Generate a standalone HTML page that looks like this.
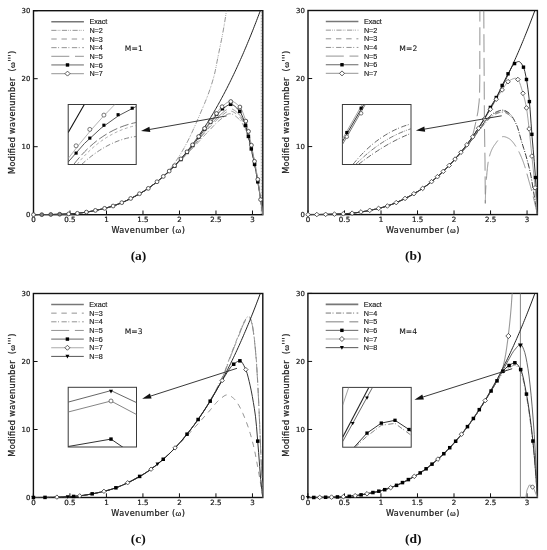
<!DOCTYPE html>
<html><head><meta charset="utf-8"><title>Modified wavenumber</title>
<style>html,body{margin:0;padding:0;background:#fff;}svg{display:block;filter:blur(0.3px);}</style>
</head><body>
<svg width="547" height="550" viewBox="0 0 547 550">
<rect width="547" height="550" fill="#fff"/>
<defs>
<clipPath id="clipa"><rect x="33.5" y="10.7" width="229.3" height="204"/></clipPath>
<clipPath id="clipb"><rect x="308" y="10.5" width="229.4" height="204.1"/></clipPath>
<clipPath id="clipc"><rect x="33.4" y="293.5" width="229.4" height="204"/></clipPath>
<clipPath id="clipd"><rect x="307.9" y="293.4" width="229.5" height="204.1"/></clipPath>
<clipPath id="insA"><rect x="68.2" y="104.5" width="68" height="60"/></clipPath>
<clipPath id="insB"><rect x="342.4" y="104.5" width="68.6" height="60"/></clipPath>
<clipPath id="insC"><rect x="68.2" y="387.3" width="68.3" height="59.7"/></clipPath>
<clipPath id="insD"><rect x="342.7" y="387.4" width="68.5" height="59.8"/></clipPath>
</defs>
<line x1="33.5" y1="214.7" x2="33.5" y2="210.5" stroke="#111" stroke-width="1"/>
<text x="33.5" y="222.4" font-family="DejaVu Sans, Liberation Sans, sans-serif" stroke="#1a1a1a" stroke-width="0.22" font-size="7.1" text-anchor="middle" fill="#1a1a1a">0</text>
<line x1="69.99" y1="214.7" x2="69.99" y2="210.5" stroke="#111" stroke-width="1"/>
<text x="69.99" y="222.4" font-family="DejaVu Sans, Liberation Sans, sans-serif" stroke="#1a1a1a" stroke-width="0.22" font-size="7.1" text-anchor="middle" fill="#1a1a1a">0.5</text>
<line x1="106.49" y1="214.7" x2="106.49" y2="210.5" stroke="#111" stroke-width="1"/>
<text x="106.49" y="222.4" font-family="DejaVu Sans, Liberation Sans, sans-serif" stroke="#1a1a1a" stroke-width="0.22" font-size="7.1" text-anchor="middle" fill="#1a1a1a">1</text>
<line x1="142.98" y1="214.7" x2="142.98" y2="210.5" stroke="#111" stroke-width="1"/>
<text x="142.98" y="222.4" font-family="DejaVu Sans, Liberation Sans, sans-serif" stroke="#1a1a1a" stroke-width="0.22" font-size="7.1" text-anchor="middle" fill="#1a1a1a">1.5</text>
<line x1="179.48" y1="214.7" x2="179.48" y2="210.5" stroke="#111" stroke-width="1"/>
<text x="179.48" y="222.4" font-family="DejaVu Sans, Liberation Sans, sans-serif" stroke="#1a1a1a" stroke-width="0.22" font-size="7.1" text-anchor="middle" fill="#1a1a1a">2</text>
<line x1="215.97" y1="214.7" x2="215.97" y2="210.5" stroke="#111" stroke-width="1"/>
<text x="215.97" y="222.4" font-family="DejaVu Sans, Liberation Sans, sans-serif" stroke="#1a1a1a" stroke-width="0.22" font-size="7.1" text-anchor="middle" fill="#1a1a1a">2.5</text>
<line x1="252.47" y1="214.7" x2="252.47" y2="210.5" stroke="#111" stroke-width="1"/>
<text x="252.47" y="222.4" font-family="DejaVu Sans, Liberation Sans, sans-serif" stroke="#1a1a1a" stroke-width="0.22" font-size="7.1" text-anchor="middle" fill="#1a1a1a">3</text>
<line x1="33.5" y1="214.7" x2="37.7" y2="214.7" stroke="#111" stroke-width="1"/>
<text x="30.4" y="217.2" font-family="DejaVu Sans, Liberation Sans, sans-serif" stroke="#1a1a1a" stroke-width="0.22" font-size="6.9" text-anchor="end" fill="#1a1a1a">0</text>
<line x1="33.5" y1="146.7" x2="37.7" y2="146.7" stroke="#111" stroke-width="1"/>
<text x="30.4" y="149.2" font-family="DejaVu Sans, Liberation Sans, sans-serif" stroke="#1a1a1a" stroke-width="0.22" font-size="6.9" text-anchor="end" fill="#1a1a1a">10</text>
<line x1="33.5" y1="78.7" x2="37.7" y2="78.7" stroke="#111" stroke-width="1"/>
<text x="30.4" y="81.2" font-family="DejaVu Sans, Liberation Sans, sans-serif" stroke="#1a1a1a" stroke-width="0.22" font-size="6.9" text-anchor="end" fill="#1a1a1a">20</text>
<line x1="33.5" y1="10.7" x2="37.7" y2="10.7" stroke="#111" stroke-width="1"/>
<text x="30.4" y="13.2" font-family="DejaVu Sans, Liberation Sans, sans-serif" stroke="#1a1a1a" stroke-width="0.22" font-size="6.9" text-anchor="end" fill="#1a1a1a">30</text>
<rect x="33.5" y="10.7" width="229.3" height="204" fill="none" stroke="#111" stroke-width="1.4"/>
<text x="148.15" y="233.1" font-family="DejaVu Sans, Liberation Sans, sans-serif" stroke="#1a1a1a" stroke-width="0.22" font-size="8.1" text-anchor="middle" textLength="73.5" lengthAdjust="spacing" fill="#1a1a1a">Wavenumber (<tspan font-family="Liberation Serif, serif" font-size="8.8">ω</tspan>)</text>
<text transform="translate(14.9 112.4) rotate(-90)" font-family="DejaVu Sans, Liberation Sans, sans-serif" stroke="#1a1a1a" stroke-width="0.22" font-size="8.1" text-anchor="middle" textLength="123" lengthAdjust="spacing" fill="#1a1a1a" xml:space="preserve">Modified wavenumber  (<tspan font-family="Liberation Serif, serif" font-size="8.8">ω</tspan>''')</text>
<text x="124.8" y="50.8" font-family="DejaVu Sans, sans-serif" font-size="7.6" textLength="18" lengthAdjust="spacing" fill="#1a1a1a" stroke="#1a1a1a" stroke-width="0.12">M=1</text>
<path d="M51.3 21.7 L83.9 21.7" fill="none" stroke="#777" stroke-width="1.6"/>
<text x="89.4" y="24.3" font-family="Liberation Sans, Arial, sans-serif" stroke="#222" stroke-width="0.18" font-size="7.2" fill="#222">Exact</text>
<path d="M51.3 30.35 L83.9 30.35" fill="none" stroke="#888" stroke-width="0.9" stroke-dasharray="5.2 1.2 0.8 1.0 0.8 1.6"/>
<text x="89.4" y="32.95" font-family="Liberation Sans, Arial, sans-serif" stroke="#222" stroke-width="0.18" font-size="7.2" fill="#222">N=2</text>
<path d="M51.3 39 L83.9 39" fill="none" stroke="#888" stroke-width="0.9" stroke-dasharray="5.4 4.8"/>
<text x="89.4" y="41.6" font-family="Liberation Sans, Arial, sans-serif" stroke="#222" stroke-width="0.18" font-size="7.2" fill="#222">N=3</text>
<path d="M51.3 47.65 L83.9 47.65" fill="none" stroke="#888" stroke-width="0.9" stroke-dasharray="5.3 1.5 1 2.5"/>
<text x="89.4" y="50.25" font-family="Liberation Sans, Arial, sans-serif" stroke="#222" stroke-width="0.18" font-size="7.2" fill="#222">N=4</text>
<path d="M51.3 56.3 L83.9 56.3" fill="none" stroke="#888" stroke-width="0.9" stroke-dasharray="18 5.7"/>
<text x="89.4" y="58.9" font-family="Liberation Sans, Arial, sans-serif" stroke="#222" stroke-width="0.18" font-size="7.2" fill="#222">N=5</text>
<path d="M51.3 64.95 L83.9 64.95" fill="none" stroke="#666" stroke-width="1.0"/>
<rect x="65.8" y="63.25" width="3.4" height="3.4" fill="#000"/>
<text x="89.4" y="67.55" font-family="Liberation Sans, Arial, sans-serif" stroke="#222" stroke-width="0.18" font-size="7.2" fill="#222">N=6</text>
<path d="M51.3 73.6 L83.9 73.6" fill="none" stroke="#aaa" stroke-width="1.2"/>
<path d="M67.5 71.1L70 73.6L67.5 76.1L65 73.6Z" fill="#fff" stroke="#333" stroke-width="0.8"/>
<text x="89.4" y="76.2" font-family="Liberation Sans, Arial, sans-serif" stroke="#222" stroke-width="0.18" font-size="7.2" fill="#222">N=7</text>
<path d="M33.5 214.7 L34.4 214.7 L35.3 214.7 L36.2 214.69 L37.1 214.69 L38 214.68 L38.9 214.68 L39.8 214.67 L40.7 214.66 L41.6 214.65 L42.5 214.64 L43.4 214.63 L44.3 214.61 L45.2 214.6 L46.1 214.58 L47 214.57 L47.9 214.55 L48.8 214.53 L49.7 214.51 L50.6 214.49 L51.5 214.47 L52.4 214.44 L53.3 214.42 L54.2 214.4 L55.1 214.37 L56 214.35 L56.9 214.32 L57.8 214.29 L58.7 214.26 L59.6 214.23 L60.5 214.2 L61.4 214.17 L62.3 214.14 L63.2 214.11 L64.1 214.08 L65 214.05 L65.89 214.01 L66.79 213.98 L67.69 213.94 L68.59 213.91 L69.49 213.87 L70.39 213.83 L71.29 213.79 L72.19 213.74 L73.09 213.68 L73.99 213.62 L74.89 213.54 L75.79 213.46 L76.69 213.38 L77.59 213.29 L78.49 213.19 L79.39 213.09 L80.29 212.98 L81.19 212.86 L82.09 212.74 L82.99 212.61 L83.89 212.48 L84.79 212.35 L85.69 212.2 L86.59 212.06 L87.49 211.91 L88.39 211.75 L89.29 211.59 L90.19 211.43 L91.09 211.26 L91.99 211.08 L92.89 210.91 L93.79 210.73 L94.69 210.55 L95.59 210.36 L96.49 210.17 L97.39 209.98 L98.29 209.78 L99.19 209.58 L100.09 209.38 L100.99 209.18 L101.89 208.98 L102.79 208.77 L103.69 208.56 L104.59 208.35 L105.49 208.14 L106.39 207.92 L107.29 207.7 L108.19 207.47 L109.09 207.23 L109.99 206.97 L110.89 206.71 L111.79 206.43 L112.69 206.14 L113.59 205.84 L114.49 205.53 L115.39 205.21 L116.29 204.88 L117.19 204.55 L118.09 204.2 L118.99 203.84 L119.89 203.47 L120.79 203.1 L121.69 202.71 L122.59 202.32 L123.49 201.92 L124.39 201.51 L125.29 201.09 L126.19 200.67 L127.09 200.24 L127.99 199.8 L128.88 199.36 L129.78 198.91 L130.68 198.46 L131.58 197.99 L132.48 197.53 L133.38 197.05 L134.28 196.58 L135.18 196.09 L136.08 195.61 L136.98 195.12 L137.88 194.62 L138.78 194.12 L139.68 193.62 L140.58 193.11 L141.48 192.6 L142.38 192.09 L143.28 191.58 L144.18 191.04 L145.08 190.48 L145.98 189.9 L146.88 189.3 L147.78 188.68 L148.68 188.04 L149.58 187.38 L150.48 186.71 L151.38 186.02 L152.28 185.32 L153.18 184.61 L154.08 183.9 L154.98 183.17 L155.88 182.44 L156.78 181.7 L157.68 180.96 L158.58 180.21 L159.48 179.46 L160.38 178.7 L161.28 177.92 L162.18 177.13 L163.08 176.32 L163.98 175.49 L164.88 174.64 L165.78 173.75 L166.68 172.83 L167.58 171.88 L168.48 170.9 L169.38 169.87 L170.28 168.79 L171.18 167.68 L172.08 166.53 L172.98 165.33 L173.88 164.1 L174.78 162.84 L175.68 161.54 L176.58 160.21 L177.48 158.84 L178.38 157.45 L179.28 156.03 L180.18 154.58 L181.08 153.1 L181.98 151.61 L182.88 150.08 L183.78 148.53 L184.68 146.93 L185.58 145.28 L186.48 143.59 L187.38 141.86 L188.28 140.09 L189.18 138.27 L190.08 136.43 L190.98 134.55 L191.87 132.63 L192.77 130.68 L193.67 128.71 L194.57 126.7 L195.47 124.67 L196.37 122.62 L197.27 120.54 L198.17 118.45 L199.07 116.33 L199.97 114.21 L200.87 112.11 L201.77 110.03 L202.67 107.94 L203.57 105.83 L204.47 103.7 L205.37 101.53 L206.27 99.3 L207.17 97.01 L208.07 94.64 L208.97 92.17 L209.87 89.6 L210.77 86.91 L211.67 84.1 L212.57 81.14 L213.47 78.02 L214.37 74.73 L215.27 70.81 L216.17 66.24 L217.07 61.49 L217.97 56.91 L218.87 52.49 L219.77 48.14 L220.67 43.79 L221.57 39.35 L222.47 34.75 L223.37 29.91 L224.27 24.74 L225.17 19.17 L226.07 13.12 L226.97 6.36 L227.87 -1.6 L228.77 -10.53 L229.67 -20.13 L230.57 -30.1" fill="none" stroke="#888" stroke-width="0.9" stroke-dasharray="5.2 1.2 0.8 1.0 0.8 1.6" clip-path="url(#clipa)"/>
<path d="M33.5 214.7 L34.55 214.7 L35.59 214.7 L36.64 214.69 L37.69 214.69 L38.74 214.68 L39.78 214.67 L40.83 214.66 L41.88 214.65 L42.92 214.63 L43.97 214.62 L45.02 214.6 L46.06 214.58 L47.11 214.56 L48.16 214.54 L49.21 214.52 L50.25 214.5 L51.3 214.47 L52.35 214.45 L53.39 214.42 L54.44 214.39 L55.49 214.36 L56.53 214.33 L57.58 214.3 L58.63 214.27 L59.68 214.23 L60.72 214.2 L61.77 214.16 L62.82 214.12 L63.86 214.09 L64.91 214.05 L65.96 214.01 L67.01 213.97 L68.05 213.93 L69.1 213.89 L70.15 213.84 L71.19 213.79 L72.24 213.74 L73.29 213.67 L74.33 213.59 L75.38 213.5 L76.43 213.41 L77.48 213.3 L78.52 213.19 L79.57 213.07 L80.62 212.94 L81.66 212.8 L82.71 212.65 L83.76 212.5 L84.8 212.34 L85.85 212.18 L86.9 212.01 L87.95 211.83 L88.99 211.64 L90.04 211.45 L91.09 211.26 L92.13 211.06 L93.18 210.85 L94.23 210.64 L95.27 210.43 L96.32 210.21 L97.37 209.98 L98.42 209.75 L99.46 209.52 L100.51 209.29 L101.56 209.05 L102.6 208.81 L103.65 208.57 L104.7 208.32 L105.75 208.08 L106.79 207.83 L107.84 207.56 L108.89 207.29 L109.93 206.99 L110.98 206.68 L112.03 206.36 L113.07 206.02 L114.12 205.66 L115.17 205.29 L116.22 204.91 L117.26 204.52 L118.31 204.11 L119.36 203.69 L120.4 203.26 L121.45 202.81 L122.5 202.36 L123.54 201.89 L124.59 201.42 L125.64 200.93 L126.69 200.44 L127.73 199.93 L128.78 199.42 L129.83 198.89 L130.87 198.36 L131.92 197.82 L132.97 197.28 L134.02 196.72 L135.06 196.16 L136.11 195.6 L137.16 195.02 L138.2 194.45 L139.25 193.86 L140.3 193.28 L141.34 192.68 L142.39 192.09 L143.44 191.49 L144.49 190.86 L145.53 190.21 L146.58 189.53 L147.63 188.82 L148.67 188.09 L149.72 187.35 L150.77 186.58 L151.81 185.79 L152.86 184.99 L153.91 184.17 L154.96 183.33 L156 182.49 L157.05 181.63 L158.1 180.77 L159.14 179.9 L160.19 179.02 L161.24 178.13 L162.28 177.25 L163.33 176.36 L164.38 175.47 L165.43 174.58 L166.47 173.67 L167.52 172.75 L168.57 171.81 L169.61 170.86 L170.66 169.9 L171.71 168.92 L172.76 167.93 L173.8 166.93 L174.85 165.92 L175.9 164.89 L176.94 163.86 L177.99 162.82 L179.04 161.76 L180.08 160.7 L181.13 159.62 L182.18 158.53 L183.23 157.41 L184.27 156.29 L185.32 155.15 L186.37 154 L187.41 152.84 L188.46 151.67 L189.51 150.49 L190.55 149.32 L191.6 148.13 L192.65 146.95 L193.7 145.77 L194.74 144.58 L195.79 143.37 L196.84 142.15 L197.88 140.91 L198.93 139.66 L199.98 138.4 L201.03 137.15 L202.07 135.89 L203.12 134.65 L204.17 133.42 L205.21 132.2 L206.26 131 L207.31 129.83 L208.35 128.68 L209.4 127.56 L210.45 126.43 L211.5 125.3 L212.54 124.18 L213.59 123.07 L214.64 121.99 L215.68 120.94 L216.73 119.94 L217.78 118.99 L218.82 118.09 L219.87 117.26 L220.92 116.41 L221.97 115.52 L223.01 114.63 L224.06 113.77 L225.11 112.97 L226.15 112.26 L227.2 111.68 L228.25 111.26 L229.29 111.03 L230.34 111.02 L231.39 111.2 L232.44 111.54 L233.48 112.04 L234.53 112.66 L235.58 113.4 L236.62 114.24 L237.67 115.16 L238.72 116.14 L239.77 117.17 L240.81 118.35 L241.86 119.95 L242.91 121.94 L243.95 124.24 L245 126.78 L246.05 129.5 L247.09 132.41 L248.14 135.91 L249.19 139.91 L250.24 144.19 L251.28 148.53 L252.33 152.98 L253.38 157.63 L254.42 162.55 L255.47 167.78 L256.52 173.38 L257.56 179.37 L258.61 185.73 L259.66 192.45 L260.71 199.53 L261.75 206.95 L262.8 214.7" fill="none" stroke="#888" stroke-width="0.9" stroke-dasharray="5.4 4.8" clip-path="url(#clipa)"/>
<path d="M33.5 214.7 L34.55 214.7 L35.59 214.7 L36.64 214.69 L37.69 214.69 L38.74 214.68 L39.78 214.67 L40.83 214.66 L41.88 214.65 L42.92 214.63 L43.97 214.62 L45.02 214.6 L46.06 214.58 L47.11 214.56 L48.16 214.54 L49.21 214.52 L50.25 214.5 L51.3 214.47 L52.35 214.45 L53.39 214.42 L54.44 214.39 L55.49 214.36 L56.53 214.33 L57.58 214.3 L58.63 214.27 L59.68 214.23 L60.72 214.2 L61.77 214.16 L62.82 214.12 L63.86 214.09 L64.91 214.05 L65.96 214.01 L67.01 213.97 L68.05 213.93 L69.1 213.89 L70.15 213.84 L71.19 213.79 L72.24 213.74 L73.29 213.67 L74.33 213.59 L75.38 213.5 L76.43 213.41 L77.48 213.3 L78.52 213.19 L79.57 213.07 L80.62 212.94 L81.66 212.8 L82.71 212.65 L83.76 212.5 L84.8 212.34 L85.85 212.18 L86.9 212.01 L87.95 211.83 L88.99 211.64 L90.04 211.45 L91.09 211.26 L92.13 211.06 L93.18 210.85 L94.23 210.64 L95.27 210.43 L96.32 210.21 L97.37 209.98 L98.42 209.75 L99.46 209.52 L100.51 209.29 L101.56 209.05 L102.6 208.81 L103.65 208.57 L104.7 208.32 L105.75 208.08 L106.79 207.83 L107.84 207.56 L108.89 207.29 L109.93 206.99 L110.98 206.68 L112.03 206.36 L113.07 206.02 L114.12 205.66 L115.17 205.29 L116.22 204.91 L117.26 204.52 L118.31 204.11 L119.36 203.69 L120.4 203.26 L121.45 202.81 L122.5 202.36 L123.54 201.89 L124.59 201.42 L125.64 200.93 L126.69 200.44 L127.73 199.93 L128.78 199.42 L129.83 198.89 L130.87 198.36 L131.92 197.82 L132.97 197.28 L134.02 196.72 L135.06 196.16 L136.11 195.6 L137.16 195.02 L138.2 194.45 L139.25 193.86 L140.3 193.28 L141.34 192.68 L142.39 192.09 L143.44 191.49 L144.49 190.86 L145.53 190.2 L146.58 189.52 L147.63 188.81 L148.67 188.08 L149.72 187.33 L150.77 186.56 L151.81 185.77 L152.86 184.96 L153.91 184.14 L154.96 183.3 L156 182.46 L157.05 181.6 L158.1 180.74 L159.14 179.86 L160.19 178.99 L161.24 178.11 L162.28 177.22 L163.33 176.34 L164.38 175.46 L165.43 174.58 L166.47 173.69 L167.52 172.78 L168.57 171.86 L169.61 170.92 L170.66 169.98 L171.71 169.02 L172.76 168.05 L173.8 167.08 L174.85 166.09 L175.9 165.1 L176.94 164.1 L177.99 163.09 L179.04 162.08 L180.08 161.07 L181.13 160.04 L182.18 159 L183.23 157.95 L184.27 156.89 L185.32 155.82 L186.37 154.75 L187.41 153.67 L188.46 152.58 L189.51 151.49 L190.55 150.39 L191.6 149.29 L192.65 148.19 L193.7 147.1 L194.74 146 L195.79 144.89 L196.84 143.77 L197.88 142.64 L198.93 141.5 L199.98 140.36 L201.03 139.23 L202.07 138.09 L203.12 136.95 L204.17 135.82 L205.21 134.7 L206.26 133.58 L207.31 132.48 L208.35 131.39 L209.4 130.3 L210.45 129.2 L211.5 128.08 L212.54 126.96 L213.59 125.85 L214.64 124.76 L215.68 123.7 L216.73 122.68 L217.78 121.72 L218.82 120.82 L219.87 119.98 L220.92 119.13 L221.97 118.24 L223.01 117.35 L224.06 116.49 L225.11 115.69 L226.15 114.98 L227.2 114.4 L228.25 113.98 L229.29 113.75 L230.34 113.74 L231.39 113.92 L232.44 114.27 L233.48 114.77 L234.53 115.4 L235.58 116.14 L236.62 116.98 L237.67 117.89 L238.72 118.87 L239.77 119.89 L240.81 121.04 L241.86 122.56 L242.91 124.43 L243.95 126.59 L245 129 L246.05 131.6 L247.09 134.42 L248.14 137.92 L249.19 141.95 L250.24 146.24 L251.28 150.55 L252.33 154.91 L253.38 159.43 L254.42 164.19 L255.47 169.25 L256.52 174.68 L257.56 180.48 L258.61 186.64 L259.66 193.16 L260.71 200.01 L261.75 207.2 L262.8 214.7" fill="none" stroke="#888" stroke-width="0.9" stroke-dasharray="5.3 1.5 1 2.5" clip-path="url(#clipa)"/>
<path d="M33.5 214.7 L34.55 214.7 L35.59 214.7 L36.64 214.69 L37.69 214.69 L38.74 214.68 L39.78 214.67 L40.83 214.66 L41.88 214.65 L42.92 214.63 L43.97 214.62 L45.02 214.6 L46.06 214.58 L47.11 214.56 L48.16 214.54 L49.21 214.52 L50.25 214.5 L51.3 214.47 L52.35 214.45 L53.39 214.42 L54.44 214.39 L55.49 214.36 L56.53 214.33 L57.58 214.3 L58.63 214.27 L59.68 214.23 L60.72 214.2 L61.77 214.16 L62.82 214.12 L63.86 214.09 L64.91 214.05 L65.96 214.01 L67.01 213.97 L68.05 213.93 L69.1 213.89 L70.15 213.84 L71.19 213.79 L72.24 213.74 L73.29 213.67 L74.33 213.59 L75.38 213.5 L76.43 213.41 L77.48 213.3 L78.52 213.19 L79.57 213.07 L80.62 212.94 L81.66 212.8 L82.71 212.65 L83.76 212.5 L84.8 212.34 L85.85 212.18 L86.9 212.01 L87.95 211.83 L88.99 211.64 L90.04 211.45 L91.09 211.26 L92.13 211.06 L93.18 210.85 L94.23 210.64 L95.27 210.43 L96.32 210.21 L97.37 209.98 L98.42 209.75 L99.46 209.52 L100.51 209.29 L101.56 209.05 L102.6 208.81 L103.65 208.57 L104.7 208.32 L105.75 208.08 L106.79 207.83 L107.84 207.56 L108.89 207.29 L109.93 206.99 L110.98 206.68 L112.03 206.36 L113.07 206.02 L114.12 205.66 L115.17 205.29 L116.22 204.91 L117.26 204.52 L118.31 204.11 L119.36 203.69 L120.4 203.26 L121.45 202.81 L122.5 202.36 L123.54 201.89 L124.59 201.42 L125.64 200.93 L126.69 200.44 L127.73 199.93 L128.78 199.42 L129.83 198.89 L130.87 198.36 L131.92 197.82 L132.97 197.28 L134.02 196.72 L135.06 196.16 L136.11 195.6 L137.16 195.02 L138.2 194.45 L139.25 193.86 L140.3 193.28 L141.34 192.68 L142.39 192.09 L143.44 191.49 L144.49 190.86 L145.53 190.21 L146.58 189.53 L147.63 188.83 L148.67 188.1 L149.72 187.36 L150.77 186.59 L151.81 185.81 L152.86 185.01 L153.91 184.19 L154.96 183.36 L156 182.52 L157.05 181.67 L158.1 180.8 L159.14 179.93 L160.19 179.05 L161.24 178.16 L162.28 177.27 L163.33 176.37 L164.38 175.47 L165.43 174.57 L166.47 173.65 L167.52 172.71 L168.57 171.76 L169.61 170.78 L170.66 169.79 L171.71 168.79 L172.76 167.77 L173.8 166.74 L174.85 165.7 L175.9 164.64 L176.94 163.58 L177.99 162.51 L179.04 161.43 L180.08 160.35 L181.13 159.25 L182.18 158.13 L183.23 156.99 L184.27 155.85 L185.32 154.69 L186.37 153.51 L187.41 152.33 L188.46 151.14 L189.51 149.94 L190.55 148.74 L191.6 147.53 L192.65 146.32 L193.7 145.1 L194.74 143.88 L195.79 142.63 L196.84 141.37 L197.88 140.08 L198.93 138.79 L199.98 137.49 L201.03 136.18 L202.07 134.88 L203.12 133.58 L204.17 132.3 L205.21 131.03 L206.26 129.77 L207.31 128.54 L208.35 127.34 L209.4 126.16 L210.45 124.96 L211.5 123.76 L212.54 122.57 L213.59 121.39 L214.64 120.24 L215.68 119.12 L216.73 118.05 L217.78 117.04 L218.82 116.09 L219.87 115.21 L220.92 114.31 L221.97 113.38 L223.01 112.44 L224.06 111.53 L225.11 110.69 L226.15 109.94 L227.2 109.33 L228.25 108.89 L229.29 108.65 L230.34 108.64 L231.39 108.83 L232.44 109.2 L233.48 109.72 L234.53 110.39 L235.58 111.17 L236.62 112.05 L237.67 113.01 L238.72 114.04 L239.77 115.12 L240.81 116.33 L241.86 117.95 L242.91 119.93 L243.95 122.22 L245 124.75 L246.05 127.46 L247.09 130.37 L248.14 133.86 L249.19 137.84 L250.24 142.12 L251.28 146.5 L252.33 151.05 L253.38 155.84 L254.42 160.91 L255.47 166.32 L256.52 172.09 L257.56 178.25 L258.61 184.81 L259.66 191.74 L260.71 199.04 L261.75 206.7 L262.8 214.7" fill="none" stroke="#888" stroke-width="0.9" stroke-dasharray="18 5.7" clip-path="url(#clipa)"/>
<path d="M261.3 11.5 L261.3 214" fill="none" stroke="#999" stroke-width="0.9" stroke-dasharray="2 1"/>
<path d="M33.5 214.7 L34.55 214.7 L35.59 214.7 L36.64 214.69 L37.69 214.69 L38.74 214.68 L39.78 214.67 L40.83 214.66 L41.88 214.65 L42.92 214.63 L43.97 214.62 L45.02 214.6 L46.06 214.58 L47.11 214.56 L48.16 214.54 L49.21 214.52 L50.25 214.5 L51.3 214.47 L52.35 214.45 L53.39 214.42 L54.44 214.39 L55.49 214.36 L56.53 214.33 L57.58 214.3 L58.63 214.27 L59.68 214.23 L60.72 214.2 L61.77 214.16 L62.82 214.12 L63.86 214.09 L64.91 214.05 L65.96 214.01 L67.01 213.97 L68.05 213.93 L69.1 213.89 L70.15 213.84 L71.19 213.79 L72.24 213.74 L73.29 213.67 L74.33 213.59 L75.38 213.5 L76.43 213.41 L77.48 213.3 L78.52 213.19 L79.57 213.07 L80.62 212.94 L81.66 212.8 L82.71 212.65 L83.76 212.5 L84.8 212.34 L85.85 212.18 L86.9 212.01 L87.95 211.83 L88.99 211.64 L90.04 211.45 L91.09 211.26 L92.13 211.06 L93.18 210.85 L94.23 210.64 L95.27 210.43 L96.32 210.21 L97.37 209.98 L98.42 209.75 L99.46 209.52 L100.51 209.29 L101.56 209.05 L102.6 208.81 L103.65 208.57 L104.7 208.32 L105.75 208.08 L106.79 207.83 L107.84 207.56 L108.89 207.29 L109.93 206.99 L110.98 206.68 L112.03 206.36 L113.07 206.02 L114.12 205.66 L115.17 205.29 L116.22 204.91 L117.26 204.52 L118.31 204.11 L119.36 203.69 L120.4 203.26 L121.45 202.81 L122.5 202.36 L123.54 201.89 L124.59 201.42 L125.64 200.93 L126.69 200.44 L127.73 199.93 L128.78 199.42 L129.83 198.89 L130.87 198.36 L131.92 197.82 L132.97 197.28 L134.02 196.72 L135.06 196.16 L136.11 195.6 L137.16 195.02 L138.2 194.45 L139.25 193.86 L140.3 193.28 L141.34 192.68 L142.39 192.09 L143.44 191.49 L144.49 190.86 L145.53 190.21 L146.58 189.54 L147.63 188.84 L148.67 188.12 L149.72 187.37 L150.77 186.61 L151.81 185.83 L152.86 185.03 L153.91 184.22 L154.96 183.39 L156 182.55 L157.05 181.7 L158.1 180.83 L159.14 179.96 L160.19 179.07 L161.24 178.18 L162.28 177.28 L163.33 176.38 L164.38 175.48 L165.43 174.56 L166.47 173.63 L167.52 172.68 L168.57 171.71 L169.61 170.71 L170.66 169.7 L171.71 168.67 L172.76 167.63 L173.8 166.57 L174.85 165.5 L175.9 164.42 L176.94 163.32 L177.99 162.22 L179.04 161.11 L180.08 159.99 L181.13 158.85 L182.18 157.7 L183.23 156.54 L184.27 155.36 L185.32 154.16 L186.37 152.95 L187.41 151.73 L188.46 150.49 L189.51 149.24 L190.55 147.98 L191.6 146.7 L192.65 145.41 L193.7 144.11 L194.74 142.79 L195.79 141.43 L196.84 140.02 L197.88 138.59 L198.93 137.15 L199.98 135.7 L201.03 134.26 L202.07 132.84 L203.12 131.46 L204.17 130.11 L205.21 128.79 L206.26 127.5 L207.31 126.21 L208.35 124.94 L209.4 123.68 L210.45 122.44 L211.5 121.21 L212.54 119.99 L213.59 118.79 L214.64 117.6 L215.68 116.42 L216.73 115.24 L217.78 114.01 L218.82 112.79 L219.87 111.61 L220.92 110.51 L221.97 109.54 L223.01 108.73 L224.06 107.92 L225.11 107.11 L226.15 106.34 L227.2 105.66 L228.25 105.09 L229.29 104.69 L230.34 104.49 L231.39 104.53 L232.44 104.81 L233.48 105.31 L234.53 106.01 L235.58 106.87 L236.62 107.86 L237.67 108.97 L238.72 110.16 L239.77 111.41 L240.81 112.98 L241.86 115.11 L242.91 117.67 L243.95 120.56 L245 123.66 L246.05 126.99 L247.09 131.07 L248.14 135.46 L249.19 139.78 L250.24 144.21 L251.28 148.81 L252.33 153.56 L253.38 158.46 L254.42 163.58 L255.47 168.94 L256.52 174.54 L257.56 180.45 L258.61 186.7 L259.66 193.25 L260.71 200.09 L261.75 207.24 L262.8 214.7" fill="none" stroke="#333" stroke-width="1.0" clip-path="url(#clipa)"/>
<path d="M33.5 214.7 L34.55 214.7 L35.59 214.7 L36.64 214.69 L37.69 214.69 L38.74 214.68 L39.78 214.67 L40.83 214.66 L41.88 214.65 L42.92 214.63 L43.97 214.62 L45.02 214.6 L46.06 214.58 L47.11 214.56 L48.16 214.54 L49.21 214.52 L50.25 214.5 L51.3 214.47 L52.35 214.45 L53.39 214.42 L54.44 214.39 L55.49 214.36 L56.53 214.33 L57.58 214.3 L58.63 214.27 L59.68 214.23 L60.72 214.2 L61.77 214.16 L62.82 214.12 L63.86 214.09 L64.91 214.05 L65.96 214.01 L67.01 213.97 L68.05 213.93 L69.1 213.89 L70.15 213.84 L71.19 213.79 L72.24 213.74 L73.29 213.67 L74.33 213.59 L75.38 213.5 L76.43 213.41 L77.48 213.3 L78.52 213.19 L79.57 213.07 L80.62 212.94 L81.66 212.8 L82.71 212.65 L83.76 212.5 L84.8 212.34 L85.85 212.18 L86.9 212.01 L87.95 211.83 L88.99 211.64 L90.04 211.45 L91.09 211.26 L92.13 211.06 L93.18 210.85 L94.23 210.64 L95.27 210.43 L96.32 210.21 L97.37 209.98 L98.42 209.75 L99.46 209.52 L100.51 209.29 L101.56 209.05 L102.6 208.81 L103.65 208.57 L104.7 208.32 L105.75 208.08 L106.79 207.83 L107.84 207.56 L108.89 207.29 L109.93 206.99 L110.98 206.68 L112.03 206.36 L113.07 206.02 L114.12 205.66 L115.17 205.29 L116.22 204.91 L117.26 204.52 L118.31 204.11 L119.36 203.69 L120.4 203.26 L121.45 202.81 L122.5 202.36 L123.54 201.89 L124.59 201.42 L125.64 200.93 L126.69 200.44 L127.73 199.93 L128.78 199.42 L129.83 198.89 L130.87 198.36 L131.92 197.82 L132.97 197.28 L134.02 196.72 L135.06 196.16 L136.11 195.6 L137.16 195.02 L138.2 194.45 L139.25 193.86 L140.3 193.28 L141.34 192.68 L142.39 192.09 L143.44 191.49 L144.49 190.86 L145.53 190.21 L146.58 189.54 L147.63 188.84 L148.67 188.12 L149.72 187.38 L150.77 186.62 L151.81 185.84 L152.86 185.05 L153.91 184.24 L154.96 183.41 L156 182.57 L157.05 181.72 L158.1 180.85 L159.14 179.98 L160.19 179.09 L161.24 178.2 L162.28 177.3 L163.33 176.39 L164.38 175.48 L165.43 174.56 L166.47 173.62 L167.52 172.66 L168.57 171.68 L169.61 170.67 L170.66 169.65 L171.71 168.61 L172.76 167.55 L173.8 166.47 L174.85 165.39 L175.9 164.29 L176.94 163.17 L177.99 162.05 L179.04 160.91 L180.08 159.77 L181.13 158.61 L182.18 157.43 L183.23 156.24 L184.27 155.03 L185.32 153.8 L186.37 152.55 L187.41 151.3 L188.46 150.02 L189.51 148.73 L190.55 147.43 L191.6 146.12 L192.65 144.79 L193.7 143.45 L194.74 142.08 L195.79 140.66 L196.84 139.19 L197.88 137.69 L198.93 136.17 L199.98 134.66 L201.03 133.17 L202.07 131.71 L203.12 130.3 L204.17 128.95 L205.21 127.69 L206.26 126.51 L207.31 125.36 L208.35 124.22 L209.4 123.05 L210.45 121.8 L211.5 120.46 L212.54 119.02 L213.59 117.53 L214.64 116.03 L215.68 114.57 L216.73 113.16 L217.78 111.72 L218.82 110.27 L219.87 108.89 L220.92 107.65 L221.97 106.63 L223.01 105.75 L224.06 104.87 L225.11 104.01 L226.15 103.22 L227.2 102.51 L228.25 101.94 L229.29 101.53 L230.34 101.3 L231.39 101.3 L232.44 101.5 L233.48 101.87 L234.53 102.41 L235.58 103.09 L236.62 103.89 L237.67 104.79 L238.72 105.78 L239.77 106.84 L240.81 108.2 L241.86 110.19 L242.91 112.7 L243.95 115.56 L245 118.65 L246.05 121.83 L247.09 125.54 L248.14 129.77 L249.19 134.41 L250.24 139.6 L251.28 144.93 L252.33 150.16 L253.38 155.45 L254.42 160.87 L255.47 166.35 L256.52 171.94 L257.56 177.99 L258.61 185.01 L259.66 192.91 L260.71 200.57 L261.75 207.75 L262.8 214.7" fill="none" stroke="#999" stroke-width="0.9" clip-path="url(#clipa)"/>
<path d="M33.5 214.7 L34.27 214.7 L35.03 214.7 L35.8 214.7 L36.57 214.7 L37.33 214.7 L38.1 214.7 L38.87 214.7 L39.64 214.7 L40.4 214.69 L41.17 214.69 L41.94 214.69 L42.7 214.69 L43.47 214.68 L44.24 214.68 L45 214.67 L45.77 214.67 L46.54 214.66 L47.3 214.65 L48.07 214.65 L48.84 214.64 L49.6 214.63 L50.37 214.62 L51.14 214.6 L51.91 214.59 L52.67 214.58 L53.44 214.56 L54.21 214.54 L54.97 214.53 L55.74 214.51 L56.51 214.49 L57.27 214.47 L58.04 214.44 L58.81 214.42 L59.57 214.39 L60.34 214.36 L61.11 214.33 L61.87 214.3 L62.64 214.27 L63.41 214.23 L64.18 214.2 L64.94 214.16 L65.71 214.12 L66.48 214.07 L67.24 214.03 L68.01 213.98 L68.78 213.93 L69.54 213.88 L70.31 213.83 L71.08 213.77 L71.84 213.71 L72.61 213.65 L73.38 213.59 L74.15 213.53 L74.91 213.46 L75.68 213.39 L76.45 213.31 L77.21 213.24 L77.98 213.16 L78.75 213.08 L79.51 213 L80.28 212.91 L81.05 212.82 L81.81 212.73 L82.58 212.63 L83.35 212.53 L84.11 212.43 L84.88 212.33 L85.65 212.22 L86.42 212.11 L87.18 211.99 L87.95 211.88 L88.72 211.76 L89.48 211.63 L90.25 211.5 L91.02 211.37 L91.78 211.24 L92.55 211.1 L93.32 210.96 L94.08 210.81 L94.85 210.66 L95.62 210.51 L96.38 210.35 L97.15 210.19 L97.92 210.02 L98.69 209.86 L99.45 209.68 L100.22 209.51 L100.99 209.32 L101.75 209.14 L102.52 208.95 L103.29 208.76 L104.05 208.56 L104.82 208.36 L105.59 208.15 L106.35 207.94 L107.12 207.72 L107.89 207.5 L108.66 207.28 L109.42 207.05 L110.19 206.81 L110.96 206.57 L111.72 206.33 L112.49 206.08 L113.26 205.83 L114.02 205.57 L114.79 205.31 L115.56 205.04 L116.32 204.76 L117.09 204.49 L117.86 204.2 L118.62 203.91 L119.39 203.62 L120.16 203.32 L120.93 203.01 L121.69 202.7 L122.46 202.39 L123.23 202.07 L123.99 201.74 L124.76 201.41 L125.53 201.07 L126.29 200.73 L127.06 200.38 L127.83 200.02 L128.59 199.66 L129.36 199.29 L130.13 198.92 L130.89 198.54 L131.66 198.16 L132.43 197.77 L133.2 197.37 L133.96 196.97 L134.73 196.56 L135.5 196.14 L136.26 195.72 L137.03 195.29 L137.8 194.86 L138.56 194.42 L139.33 193.97 L140.1 193.52 L140.86 193.06 L141.63 192.59 L142.4 192.12 L143.17 191.64 L143.93 191.15 L144.7 190.65 L145.47 190.15 L146.23 189.64 L147 189.13 L147.77 188.61 L148.53 188.08 L149.3 187.54 L150.07 187 L150.83 186.45 L151.6 185.89 L152.37 185.33 L153.13 184.76 L153.9 184.18 L154.67 183.59 L155.44 182.99 L156.2 182.39 L156.97 181.78 L157.74 181.17 L158.5 180.54 L159.27 179.91 L160.04 179.27 L160.8 178.62 L161.57 177.96 L162.34 177.3 L163.1 176.63 L163.87 175.95 L164.64 175.26 L165.41 174.56 L166.17 173.86 L166.94 173.15 L167.71 172.43 L168.47 171.7 L169.24 170.96 L170.01 170.22 L170.77 169.46 L171.54 168.7 L172.31 167.93 L173.07 167.15 L173.84 166.36 L174.61 165.56 L175.37 164.76 L176.14 163.94 L176.91 163.12 L177.68 162.29 L178.44 161.45 L179.21 160.6 L179.98 159.74 L180.74 158.87 L181.51 158 L182.28 157.11 L183.04 156.21 L183.81 155.31 L184.58 154.4 L185.34 153.47 L186.11 152.54 L186.88 151.6 L187.64 150.65 L188.41 149.69 L189.18 148.72 L189.95 147.74 L190.71 146.75 L191.48 145.75 L192.25 144.74 L193.01 143.72 L193.78 142.69 L194.55 141.65 L195.31 140.6 L196.08 139.55 L196.85 138.48 L197.61 137.4 L198.38 136.31 L199.15 135.21 L199.92 134.1 L200.68 132.98 L201.45 131.85 L202.22 130.71 L202.98 129.56 L203.75 128.4 L204.52 127.23 L205.28 126.05 L206.05 124.86 L206.82 123.65 L207.58 122.44 L208.35 121.21 L209.12 119.98 L209.88 118.73 L210.65 117.47 L211.42 116.21 L212.19 114.93 L212.95 113.64 L213.72 112.34 L214.49 111.02 L215.25 109.7 L216.02 108.37 L216.79 107.02 L217.55 105.66 L218.32 104.29 L219.09 102.91 L219.85 101.52 L220.62 100.12 L221.39 98.7 L222.15 97.28 L222.92 95.84 L223.69 94.39 L224.46 92.93 L225.22 91.46 L225.99 89.97 L226.76 88.47 L227.52 86.97 L228.29 85.45 L229.06 83.91 L229.82 82.37 L230.59 80.81 L231.36 79.24 L232.12 77.66 L232.89 76.07 L233.66 74.46 L234.43 72.84 L235.19 71.21 L235.96 69.57 L236.73 67.91 L237.49 66.25 L238.26 64.57 L239.03 62.87 L239.79 61.17 L240.56 59.45 L241.33 57.72 L242.09 55.97 L242.86 54.22 L243.63 52.45 L244.39 50.66 L245.16 48.87 L245.93 47.06 L246.7 45.24 L247.46 43.4 L248.23 41.55 L249 39.69 L249.76 37.81 L250.53 35.93 L251.3 34.02 L252.06 32.11 L252.83 30.18 L253.6 28.24 L254.36 26.28 L255.13 24.31 L255.9 22.33 L256.66 20.33 L257.43 18.32 L258.2 16.3 L258.97 14.26 L259.73 12.21 L260.5 10.14 L261.27 8.06 L262.03 5.97 L262.8 3.86" fill="none" stroke="#222" stroke-width="1.0" clip-path="url(#clipa)"/>
<rect x="172.85" y="164.5" width="3.5" height="3.5" fill="#000"/>
<rect x="179.15" y="157.72" width="3.5" height="3.5" fill="#000"/>
<rect x="185.25" y="150.65" width="3.5" height="3.5" fill="#000"/>
<rect x="190.85" y="143.71" width="3.5" height="3.5" fill="#000"/>
<rect x="196.95" y="135.36" width="3.5" height="3.5" fill="#000"/>
<rect x="202.85" y="127.27" width="3.5" height="3.5" fill="#000"/>
<rect x="208.75" y="120.6" width="3.5" height="3.5" fill="#000"/>
<rect x="214.75" y="112.33" width="3.5" height="3.5" fill="#000"/>
<rect x="220.65" y="106.95" width="3.5" height="3.5" fill="#000"/>
<rect x="228.85" y="102.55" width="3.5" height="3.5" fill="#000"/>
<rect x="238.05" y="109.65" width="3.5" height="3.5" fill="#000"/>
<rect x="243.75" y="123.55" width="3.5" height="3.5" fill="#000"/>
<rect x="246.65" y="134.65" width="3.5" height="3.5" fill="#000"/>
<rect x="249.55" y="147.15" width="3.5" height="3.5" fill="#000"/>
<rect x="252.85" y="162.65" width="3.5" height="3.5" fill="#000"/>
<rect x="256.05" y="180.05" width="3.5" height="3.5" fill="#000"/>
<circle cx="33.5" cy="214.7" r="1.9" fill="#fff" stroke="#333" stroke-width="0.8"/>
<circle cx="41.8" cy="214.65" r="1.9" fill="#888" stroke="#333" stroke-width="0.8"/>
<circle cx="50.8" cy="214.48" r="1.9" fill="#888" stroke="#333" stroke-width="0.8"/>
<circle cx="59.7" cy="214.23" r="1.9" fill="#888" stroke="#333" stroke-width="0.8"/>
<circle cx="68.7" cy="213.9" r="1.9" fill="#fff" stroke="#333" stroke-width="0.8"/>
<circle cx="77.4" cy="213.31" r="1.9" fill="#fff" stroke="#333" stroke-width="0.8"/>
<circle cx="86.4" cy="212.09" r="1.9" fill="#fff" stroke="#333" stroke-width="0.8"/>
<circle cx="95.4" cy="210.4" r="1.9" fill="#fff" stroke="#333" stroke-width="0.8"/>
<circle cx="104.6" cy="208.35" r="1.9" fill="#fff" stroke="#333" stroke-width="0.8"/>
<circle cx="113.1" cy="206.01" r="1.9" fill="#fff" stroke="#333" stroke-width="0.8"/>
<circle cx="121.8" cy="202.66" r="1.9" fill="#fff" stroke="#333" stroke-width="0.8"/>
<circle cx="130.7" cy="198.45" r="1.9" fill="#fff" stroke="#333" stroke-width="0.8"/>
<circle cx="139.5" cy="193.73" r="1.9" fill="#fff" stroke="#333" stroke-width="0.8"/>
<circle cx="148.3" cy="188.38" r="1.9" fill="#fff" stroke="#333" stroke-width="0.8"/>
<circle cx="157" cy="181.76" r="1.9" fill="#fff" stroke="#333" stroke-width="0.8"/>
<circle cx="163.3" cy="176.42" r="1.9" fill="#fff" stroke="#333" stroke-width="0.8"/>
<circle cx="169.2" cy="171.07" r="1.9" fill="#fff" stroke="#333" stroke-width="0.8"/>
<circle cx="174.6" cy="165.65" r="1.9" fill="#fff" stroke="#333" stroke-width="0.8"/>
<circle cx="180.9" cy="158.87" r="1.9" fill="#fff" stroke="#333" stroke-width="0.8"/>
<circle cx="187" cy="151.8" r="1.9" fill="#fff" stroke="#333" stroke-width="0.8"/>
<circle cx="192.6" cy="144.86" r="1.9" fill="#fff" stroke="#333" stroke-width="0.8"/>
<circle cx="198.7" cy="136.51" r="1.9" fill="#fff" stroke="#333" stroke-width="0.8"/>
<circle cx="204.6" cy="128.42" r="1.9" fill="#fff" stroke="#333" stroke-width="0.8"/>
<circle cx="210.5" cy="121.75" r="1.9" fill="#fff" stroke="#333" stroke-width="0.8"/>
<circle cx="216.5" cy="113.48" r="1.9" fill="#fff" stroke="#333" stroke-width="0.8"/>
<circle cx="222.1" cy="106.7" r="1.9" fill="#fff" stroke="#333" stroke-width="0.8"/>
<circle cx="230.8" cy="101.5" r="1.9" fill="#fff" stroke="#333" stroke-width="0.8"/>
<circle cx="239.9" cy="107" r="1.9" fill="#fff" stroke="#333" stroke-width="0.8"/>
<circle cx="245.8" cy="121.1" r="1.9" fill="#fff" stroke="#333" stroke-width="0.8"/>
<circle cx="248.5" cy="131.4" r="1.9" fill="#fff" stroke="#333" stroke-width="0.8"/>
<circle cx="251.4" cy="145.2" r="1.9" fill="#fff" stroke="#333" stroke-width="0.8"/>
<circle cx="254.5" cy="161.3" r="1.9" fill="#fff" stroke="#333" stroke-width="0.8"/>
<circle cx="257.8" cy="179.4" r="1.9" fill="#fff" stroke="#333" stroke-width="0.8"/>
<circle cx="260.6" cy="199.6" r="1.9" fill="#fff" stroke="#333" stroke-width="0.8"/>
<rect x="68.2" y="104.5" width="68" height="60" fill="#fff" stroke="#3a3a3a" stroke-width="1"/>
<path d="M68.2 132.5 L84.3 104.5" fill="none" stroke="#111" stroke-width="1.1" clip-path="url(#insA)"/>
<path d="M68.2 158.5 Q92 127 114.8 104.5" fill="none" stroke="#aaa" stroke-width="0.9" clip-path="url(#insA)"/>
<path d="M68.2 162 Q100 122 136.2 106.5" fill="none" stroke="#444" stroke-width="0.9" clip-path="url(#insA)"/>
<path d="M73.7 164.5 Q100 130 136 122.5" fill="none" stroke="#666" stroke-width="0.9" stroke-dasharray="9 3" clip-path="url(#insA)"/>
<path d="M77 164.5 Q102 133 136 125.5" fill="none" stroke="#999" stroke-width="0.8" stroke-dasharray="3 2.5" clip-path="url(#insA)"/>
<path d="M81.6 164.5 Q108 140 136 136.5" fill="none" stroke="#666" stroke-width="0.8" stroke-dasharray="5 2 1 2" clip-path="url(#insA)"/>
<rect x="74.55" y="151.55" width="3.1" height="3.1" fill="#000"/>
<rect x="88.25" y="136.55" width="3.1" height="3.1" fill="#000"/>
<rect x="102.35" y="123.65" width="3.1" height="3.1" fill="#000"/>
<rect x="116.55" y="113.15" width="3.1" height="3.1" fill="#000"/>
<rect x="130.65" y="106.65" width="3.1" height="3.1" fill="#000"/>
<circle cx="76.1" cy="145.8" r="2" fill="#fff" stroke="#555" stroke-width="0.8"/>
<circle cx="89.8" cy="129.4" r="2" fill="#fff" stroke="#555" stroke-width="0.8"/>
<circle cx="103.9" cy="115.1" r="2" fill="#fff" stroke="#555" stroke-width="0.8"/>
<line x1="226.5" y1="115.9" x2="149.86" y2="129.43" stroke="#222" stroke-width="0.9"/>
<path d="M141 131L149.39 126.78L150.33 132.09Z" fill="#111"/>
<text x="138.5" y="259.5" font-family="Liberation Serif, serif" font-weight="bold" font-size="13.5" text-anchor="middle" fill="#111">(a)</text>
<line x1="308" y1="214.6" x2="308" y2="210.4" stroke="#111" stroke-width="1"/>
<text x="308" y="222.3" font-family="DejaVu Sans, Liberation Sans, sans-serif" stroke="#1a1a1a" stroke-width="0.22" font-size="7.1" text-anchor="middle" fill="#1a1a1a">0</text>
<line x1="344.51" y1="214.6" x2="344.51" y2="210.4" stroke="#111" stroke-width="1"/>
<text x="344.51" y="222.3" font-family="DejaVu Sans, Liberation Sans, sans-serif" stroke="#1a1a1a" stroke-width="0.22" font-size="7.1" text-anchor="middle" fill="#1a1a1a">0.5</text>
<line x1="381.02" y1="214.6" x2="381.02" y2="210.4" stroke="#111" stroke-width="1"/>
<text x="381.02" y="222.3" font-family="DejaVu Sans, Liberation Sans, sans-serif" stroke="#1a1a1a" stroke-width="0.22" font-size="7.1" text-anchor="middle" fill="#1a1a1a">1</text>
<line x1="417.53" y1="214.6" x2="417.53" y2="210.4" stroke="#111" stroke-width="1"/>
<text x="417.53" y="222.3" font-family="DejaVu Sans, Liberation Sans, sans-serif" stroke="#1a1a1a" stroke-width="0.22" font-size="7.1" text-anchor="middle" fill="#1a1a1a">1.5</text>
<line x1="454.04" y1="214.6" x2="454.04" y2="210.4" stroke="#111" stroke-width="1"/>
<text x="454.04" y="222.3" font-family="DejaVu Sans, Liberation Sans, sans-serif" stroke="#1a1a1a" stroke-width="0.22" font-size="7.1" text-anchor="middle" fill="#1a1a1a">2</text>
<line x1="490.55" y1="214.6" x2="490.55" y2="210.4" stroke="#111" stroke-width="1"/>
<text x="490.55" y="222.3" font-family="DejaVu Sans, Liberation Sans, sans-serif" stroke="#1a1a1a" stroke-width="0.22" font-size="7.1" text-anchor="middle" fill="#1a1a1a">2.5</text>
<line x1="527.06" y1="214.6" x2="527.06" y2="210.4" stroke="#111" stroke-width="1"/>
<text x="527.06" y="222.3" font-family="DejaVu Sans, Liberation Sans, sans-serif" stroke="#1a1a1a" stroke-width="0.22" font-size="7.1" text-anchor="middle" fill="#1a1a1a">3</text>
<line x1="308" y1="214.6" x2="312.2" y2="214.6" stroke="#111" stroke-width="1"/>
<text x="304.9" y="217.1" font-family="DejaVu Sans, Liberation Sans, sans-serif" stroke="#1a1a1a" stroke-width="0.22" font-size="6.9" text-anchor="end" fill="#1a1a1a">0</text>
<line x1="308" y1="146.57" x2="312.2" y2="146.57" stroke="#111" stroke-width="1"/>
<text x="304.9" y="149.07" font-family="DejaVu Sans, Liberation Sans, sans-serif" stroke="#1a1a1a" stroke-width="0.22" font-size="6.9" text-anchor="end" fill="#1a1a1a">10</text>
<line x1="308" y1="78.53" x2="312.2" y2="78.53" stroke="#111" stroke-width="1"/>
<text x="304.9" y="81.03" font-family="DejaVu Sans, Liberation Sans, sans-serif" stroke="#1a1a1a" stroke-width="0.22" font-size="6.9" text-anchor="end" fill="#1a1a1a">20</text>
<line x1="308" y1="10.5" x2="312.2" y2="10.5" stroke="#111" stroke-width="1"/>
<text x="304.9" y="13" font-family="DejaVu Sans, Liberation Sans, sans-serif" stroke="#1a1a1a" stroke-width="0.22" font-size="6.9" text-anchor="end" fill="#1a1a1a">30</text>
<rect x="308" y="10.5" width="229.4" height="204.1" fill="none" stroke="#111" stroke-width="1.4"/>
<text x="422.7" y="233" font-family="DejaVu Sans, Liberation Sans, sans-serif" stroke="#1a1a1a" stroke-width="0.22" font-size="8.1" text-anchor="middle" textLength="73.5" lengthAdjust="spacing" fill="#1a1a1a">Wavenumber (<tspan font-family="Liberation Serif, serif" font-size="8.8">ω</tspan>)</text>
<text transform="translate(289.4 112.25) rotate(-90)" font-family="DejaVu Sans, Liberation Sans, sans-serif" stroke="#1a1a1a" stroke-width="0.22" font-size="8.1" text-anchor="middle" textLength="123" lengthAdjust="spacing" fill="#1a1a1a" xml:space="preserve">Modified wavenumber  (<tspan font-family="Liberation Serif, serif" font-size="8.8">ω</tspan>''')</text>
<text x="399.3" y="50.6" font-family="DejaVu Sans, sans-serif" font-size="7.6" textLength="18" lengthAdjust="spacing" fill="#1a1a1a" stroke="#1a1a1a" stroke-width="0.12">M=2</text>
<path d="M325.8 21.5 L358.4 21.5" fill="none" stroke="#777" stroke-width="1.6"/>
<text x="363.9" y="24.1" font-family="Liberation Sans, Arial, sans-serif" stroke="#222" stroke-width="0.18" font-size="7.2" fill="#222">Exact</text>
<path d="M325.8 30.15 L358.4 30.15" fill="none" stroke="#888" stroke-width="0.9" stroke-dasharray="5.2 1.2 0.8 1.0 0.8 1.6"/>
<text x="363.9" y="32.75" font-family="Liberation Sans, Arial, sans-serif" stroke="#222" stroke-width="0.18" font-size="7.2" fill="#222">N=2</text>
<path d="M325.8 38.8 L358.4 38.8" fill="none" stroke="#888" stroke-width="0.9" stroke-dasharray="5.4 4.8"/>
<text x="363.9" y="41.4" font-family="Liberation Sans, Arial, sans-serif" stroke="#222" stroke-width="0.18" font-size="7.2" fill="#222">N=3</text>
<path d="M325.8 47.45 L358.4 47.45" fill="none" stroke="#888" stroke-width="0.9" stroke-dasharray="5.3 1.5 1 2.5"/>
<text x="363.9" y="50.05" font-family="Liberation Sans, Arial, sans-serif" stroke="#222" stroke-width="0.18" font-size="7.2" fill="#222">N=4</text>
<path d="M325.8 56.1 L358.4 56.1" fill="none" stroke="#888" stroke-width="0.9" stroke-dasharray="18 5.7"/>
<text x="363.9" y="58.7" font-family="Liberation Sans, Arial, sans-serif" stroke="#222" stroke-width="0.18" font-size="7.2" fill="#222">N=5</text>
<path d="M325.8 64.75 L358.4 64.75" fill="none" stroke="#666" stroke-width="1.0"/>
<rect x="340.3" y="63.05" width="3.4" height="3.4" fill="#000"/>
<text x="363.9" y="67.35" font-family="Liberation Sans, Arial, sans-serif" stroke="#222" stroke-width="0.18" font-size="7.2" fill="#222">N=6</text>
<path d="M325.8 73.4 L358.4 73.4" fill="none" stroke="#aaa" stroke-width="1.2"/>
<path d="M342 70.9L344.5 73.4L342 75.9L339.5 73.4Z" fill="#fff" stroke="#333" stroke-width="0.8"/>
<text x="363.9" y="76" font-family="Liberation Sans, Arial, sans-serif" stroke="#222" stroke-width="0.18" font-size="7.2" fill="#222">N=7</text>
<path d="M308 214.6 L309.05 214.6 L310.09 214.6 L311.14 214.59 L312.19 214.59 L313.24 214.58 L314.28 214.57 L315.33 214.56 L316.38 214.55 L317.43 214.53 L318.47 214.52 L319.52 214.5 L320.57 214.48 L321.62 214.46 L322.66 214.44 L323.71 214.42 L324.76 214.4 L325.81 214.37 L326.85 214.35 L327.9 214.32 L328.95 214.29 L330 214.26 L331.04 214.23 L332.09 214.2 L333.14 214.17 L334.19 214.13 L335.23 214.1 L336.28 214.06 L337.33 214.02 L338.38 213.99 L339.42 213.95 L340.47 213.91 L341.52 213.87 L342.57 213.83 L343.61 213.79 L344.66 213.74 L345.71 213.69 L346.76 213.63 L347.8 213.57 L348.85 213.49 L349.9 213.4 L350.95 213.3 L351.99 213.2 L353.04 213.09 L354.09 212.96 L355.14 212.84 L356.18 212.7 L357.23 212.55 L358.28 212.4 L359.33 212.24 L360.37 212.08 L361.42 211.9 L362.47 211.73 L363.52 211.54 L364.56 211.35 L365.61 211.16 L366.66 210.95 L367.71 210.75 L368.75 210.54 L369.8 210.32 L370.85 210.1 L371.9 209.88 L372.94 209.65 L373.99 209.42 L375.04 209.19 L376.09 208.95 L377.13 208.71 L378.18 208.47 L379.23 208.22 L380.28 207.97 L381.32 207.72 L382.37 207.46 L383.42 207.18 L384.47 206.89 L385.51 206.58 L386.56 206.25 L387.61 205.91 L388.66 205.56 L389.7 205.19 L390.75 204.81 L391.8 204.41 L392.85 204 L393.89 203.58 L394.94 203.15 L395.99 202.71 L397.04 202.25 L398.08 201.79 L399.13 201.31 L400.18 200.82 L401.23 200.33 L402.27 199.82 L403.32 199.31 L404.37 198.78 L405.42 198.25 L406.46 197.71 L407.51 197.17 L408.56 196.61 L409.61 196.05 L410.65 195.49 L411.7 194.91 L412.75 194.34 L413.8 193.75 L414.84 193.17 L415.89 192.57 L416.94 191.98 L417.99 191.37 L419.03 190.75 L420.08 190.1 L421.13 189.42 L422.18 188.72 L423.22 188 L424.27 187.26 L425.32 186.5 L426.37 185.72 L427.41 184.92 L428.46 184.11 L429.51 183.28 L430.56 182.44 L431.6 181.58 L432.65 180.72 L433.7 179.84 L434.75 178.96 L435.79 178.06 L436.84 177.17 L437.89 176.26 L438.94 175.36 L439.98 174.44 L441.03 173.51 L442.08 172.55 L443.13 171.58 L444.17 170.58 L445.22 169.57 L446.27 168.53 L447.32 167.49 L448.36 166.43 L449.41 165.36 L450.46 164.27 L451.51 163.18 L452.55 162.08 L453.6 160.98 L454.65 159.87 L455.7 158.75 L456.74 157.62 L457.79 156.47 L458.84 155.32 L459.89 154.15 L460.93 152.97 L461.98 151.77 L463.03 150.56 L464.08 149.34 L465.12 148.11 L466.17 146.86 L467.22 145.59 L468.27 144.31 L469.31 143.01 L470.36 141.65 L471.41 140.24 L472.46 138.8 L473.5 137.32 L474.55 135.82 L475.6 134.32 L476.65 132.8 L477.69 131.3 L478.74 129.81 L479.79 128.34 L480.84 126.91 L481.88 125.52 L482.93 124.18 L483.98 122.9 L485.03 121.69 L486.07 120.53 L487.12 119.34 L488.17 118.16 L489.22 117.01 L490.26 115.92 L491.31 114.92 L492.36 114.05 L493.41 113.32 L494.45 112.77 L495.5 112.28 L496.55 111.81 L497.6 111.37 L498.64 110.97 L499.69 110.64 L500.74 110.39 L501.79 110.23 L502.83 110.17 L503.88 110.29 L504.93 110.61 L505.98 111.1 L507.02 111.71 L508.07 112.39 L509.12 113.12 L510.17 114.07 L511.21 115.3 L512.26 116.78 L513.31 118.48 L514.36 120.37 L515.4 122.43 L516.45 124.63 L517.5 127.25 L518.55 130.62 L519.59 134.41 L520.64 138.3 L521.69 141.94 L522.74 145.31 L523.78 148.61 L524.83 151.95 L525.88 155.43 L526.93 159.16 L527.97 163.04 L529.02 167.14 L530.07 171.63 L531.12 176.75 L532.16 182.93 L533.21 189.51 L534.26 195.89 L535.31 202.29 L536.35 208.52 L537.4 214.6" fill="none" stroke="#3a3a3a" stroke-width="1.0" stroke-dasharray="6 1.4 1 1.4" clip-path="url(#clipb)"/>
<path d="M461.34 152.47 L461.57 152.21 L461.8 151.95 L462.02 151.69 L462.25 151.42 L462.48 151.16 L462.7 150.9 L462.93 150.64 L463.16 150.37 L463.38 150.11 L463.61 149.85 L463.84 149.58 L464.06 149.32 L464.29 149.05 L464.52 148.78 L464.74 148.52 L464.97 148.25 L465.2 147.98 L465.42 147.71 L465.65 147.44 L465.88 147.17 L466.1 146.9 L466.33 146.63 L466.56 146.36 L466.78 146.09 L467.01 145.82 L467.24 145.55 L467.46 145.27 L467.69 145 L467.92 144.73 L468.14 144.45 L468.37 144.18 L468.6 143.9 L468.82 143.63 L469.05 143.35 L469.28 143.07 L469.5 142.78 L469.73 142.5 L469.96 142.21 L470.19 141.92 L470.41 141.63 L470.64 141.34 L470.87 141.04 L471.09 140.74 L471.32 140.44 L471.55 140.14 L471.77 139.84 L472 139.54 L472.23 139.24 L472.45 138.93 L472.68 138.62 L472.91 138.32 L473.13 138.01 L473.36 137.7 L473.59 137.39 L473.81 137.08 L474.04 136.77 L474.27 136.45 L474.49 136.14 L474.72 135.83 L474.95 135.51 L475.17 135.2 L475.4 134.88 L475.63 134.57 L475.85 134.26 L476.08 133.94 L476.31 133.63 L476.53 133.31 L476.76 133 L476.99 132.69 L477.21 132.37 L477.44 132.06 L477.67 131.75 L477.89 131.44 L478.12 131.13 L478.35 130.82 L478.57 130.51 L478.8 130.2 L479.03 129.89 L479.25 129.59 L479.48 129.28 L479.71 128.98 L479.93 128.68 L480.16 128.38 L480.39 128.08 L480.61 127.78 L480.84 127.49 L481.07 127.19 L481.29 126.9 L481.52 126.61 L481.75 126.32 L481.98 126.04 L482.2 125.75 L482.43 125.47 L482.66 125.19 L482.88 124.92 L483.11 124.64 L483.34 124.37 L483.56 124.1 L483.79 123.83 L484.02 123.57 L484.24 123.31 L484.47 123.05 L484.7 122.8 L484.92 122.54 L485.15 122.3 L485.38 122.05 L485.6 121.8 L485.83 121.55 L486.06 121.3 L486.28 121.05 L486.51 120.8 L486.74 120.55 L486.96 120.29 L487.19 120.04 L487.42 119.78 L487.64 119.53 L487.87 119.27 L488.1 119.02 L488.32 118.77 L488.55 118.52 L488.78 118.27 L489 118.03 L489.23 117.79 L489.46 117.55 L489.68 117.31 L489.91 117.07 L490.14 116.85 L490.36 116.62 L490.59 116.4 L490.82 116.18 L491.04 115.97 L491.27 115.76 L491.5 115.56 L491.72 115.37 L491.95 115.18 L492.18 115 L492.4 114.82 L492.63 114.65 L492.86 114.49 L493.08 114.34 L493.31 114.19 L493.54 114.05 L493.76 113.93 L493.99 113.81 L494.22 113.7 L494.45 113.59 L494.67 113.48 L494.9 113.38 L495.13 113.27 L495.35 113.17 L495.58 113.06 L495.81 112.96 L496.03 112.86 L496.26 112.76 L496.49 112.66 L496.71 112.56 L496.94 112.46 L497.17 112.37 L497.39 112.27 L497.62 112.18 L497.85 112.09 L498.07 112.01 L498.3 111.92 L498.53 111.84 L498.75 111.76 L498.98 111.69 L499.21 111.62 L499.43 111.55 L499.66 111.48 L499.89 111.42 L500.11 111.36 L500.34 111.31 L500.57 111.26 L500.79 111.21 L501.02 111.17 L501.25 111.13 L501.47 111.1 L501.7 111.07 L501.93 111.05 L502.15 111.03 L502.38 111.01 L502.61 111.01 L502.83 111 L503.06 111.01 L503.29 111.03 L503.51 111.06 L503.74 111.09 L503.97 111.14 L504.19 111.2 L504.42 111.27 L504.65 111.34 L504.87 111.43 L505.1 111.52 L505.33 111.61 L505.55 111.72 L505.78 111.83 L506.01 111.95 L506.24 112.07 L506.46 112.2 L506.69 112.33 L506.92 112.46 L507.14 112.6 L507.37 112.75 L507.6 112.89 L507.82 113.04 L508.05 113.19 L508.28 113.34 L508.5 113.5 L508.73 113.65 L508.96 113.81 L509.18 113.98 L509.41 114.16 L509.64 114.36 L509.86 114.57 L510.09 114.8 L510.32 115.04 L510.54 115.29 L510.77 115.55 L511 115.83" fill="none" stroke="#666" stroke-width="0.9" stroke-dasharray="5.4 4.8" clip-path="url(#clipb)"/>
<path d="M461.34 152.42 L461.58 152.15 L461.81 151.88 L462.04 151.61 L462.28 151.34 L462.51 151.07 L462.74 150.8 L462.98 150.53 L463.21 150.26 L463.44 149.99 L463.68 149.72 L463.91 149.44 L464.14 149.17 L464.38 148.9 L464.61 148.62 L464.84 148.35 L465.08 148.07 L465.31 147.8 L465.54 147.52 L465.78 147.25 L466.01 146.97 L466.24 146.7 L466.48 146.42 L466.71 146.14 L466.94 145.87 L467.18 145.59 L467.41 145.31 L467.64 145.04 L467.88 144.76 L468.11 144.48 L468.34 144.2 L468.58 143.92 L468.81 143.65 L469.04 143.37 L469.28 143.08 L469.51 142.8 L469.74 142.51 L469.98 142.23 L470.21 141.94 L470.45 141.65 L470.68 141.35 L470.91 141.06 L471.15 140.77 L471.38 140.47 L471.61 140.17 L471.85 139.87 L472.08 139.57 L472.31 139.27 L472.55 138.97 L472.78 138.67 L473.01 138.37 L473.25 138.06 L473.48 137.76 L473.71 137.45 L473.95 137.15 L474.18 136.84 L474.41 136.54 L474.65 136.23 L474.88 135.92 L475.11 135.62 L475.35 135.31 L475.58 135 L475.81 134.69 L476.05 134.39 L476.28 134.08 L476.51 133.77 L476.75 133.47 L476.98 133.16 L477.21 132.86 L477.45 132.55 L477.68 132.25 L477.91 131.94 L478.15 131.64 L478.38 131.34 L478.61 131.04 L478.85 130.74 L479.08 130.44 L479.31 130.14 L479.55 129.84 L479.78 129.54 L480.01 129.25 L480.25 128.96 L480.48 128.66 L480.71 128.37 L480.95 128.08 L481.18 127.8 L481.41 127.51 L481.65 127.23 L481.88 126.95 L482.12 126.67 L482.35 126.39 L482.58 126.11 L482.82 125.84 L483.05 125.56 L483.28 125.29 L483.52 125.03 L483.75 124.76 L483.98 124.5 L484.22 124.24 L484.45 123.98 L484.68 123.73 L484.92 123.47 L485.15 123.22 L485.38 122.98 L485.62 122.73 L485.85 122.48 L486.08 122.22 L486.32 121.97 L486.55 121.71 L486.78 121.46 L487.02 121.2 L487.25 120.94 L487.48 120.68 L487.72 120.42 L487.95 120.16 L488.18 119.91 L488.42 119.65 L488.65 119.4 L488.88 119.15 L489.12 118.9 L489.35 118.65 L489.58 118.41 L489.82 118.17 L490.05 117.93 L490.28 117.7 L490.52 117.47 L490.75 117.25 L490.98 117.03 L491.22 116.82 L491.45 116.61 L491.68 116.41 L491.92 116.21 L492.15 116.03 L492.38 115.85 L492.62 115.67 L492.85 115.51 L493.08 115.35 L493.32 115.2 L493.55 115.06 L493.78 114.93 L494.02 114.81 L494.25 114.7 L494.49 114.59 L494.72 114.48 L494.95 114.37 L495.19 114.27 L495.42 114.16 L495.65 114.05 L495.89 113.95 L496.12 113.84 L496.35 113.74 L496.59 113.64 L496.82 113.54 L497.05 113.44 L497.29 113.35 L497.52 113.25 L497.75 113.16 L497.99 113.07 L498.22 112.99 L498.45 112.9 L498.69 112.82 L498.92 112.75 L499.15 112.67 L499.39 112.6 L499.62 112.53 L499.85 112.47 L500.09 112.41 L500.32 112.35 L500.55 112.3 L500.79 112.25 L501.02 112.21 L501.25 112.17 L501.49 112.14 L501.72 112.11 L501.95 112.09 L502.19 112.07 L502.42 112.06 L502.65 112.05 L502.89 112.05 L503.12 112.06 L503.35 112.08 L503.59 112.11 L503.82 112.15 L504.05 112.21 L504.29 112.27 L504.52 112.34 L504.75 112.42 L504.99 112.51 L505.22 112.61 L505.45 112.71 L505.69 112.82 L505.92 112.94 L506.16 113.06 L506.39 113.19 L506.62 113.32 L506.86 113.46 L507.09 113.6 L507.32 113.74 L507.56 113.89 L507.79 114.04 L508.02 114.2 L508.26 114.35 L508.49 114.51 L508.72 114.66 L508.96 114.83 L509.19 115 L509.42 115.19 L509.66 115.39 L509.89 115.61 L510.12 115.84 L510.36 116.08 L510.59 116.34 L510.82 116.61 L511.06 116.89 L511.29 117.19 L511.52 117.5 L511.76 117.82 L511.99 118.15 L512.22 118.49 L512.46 118.84" fill="none" stroke="#555" stroke-width="0.9" stroke-dasharray="5.3 1.5 1 2.5" clip-path="url(#clipb)"/>
<path d="M308 214.6 L308.72 214.6 L309.43 214.6 L310.15 214.6 L310.87 214.59 L311.58 214.59 L312.3 214.59 L313.02 214.58 L313.73 214.57 L314.45 214.57 L315.17 214.56 L315.89 214.55 L316.6 214.54 L317.32 214.53 L318.04 214.52 L318.75 214.51 L319.47 214.5 L320.19 214.49 L320.9 214.48 L321.62 214.46 L322.34 214.45 L323.05 214.43 L323.77 214.42 L324.49 214.4 L325.2 214.39 L325.92 214.37 L326.64 214.35 L327.36 214.33 L328.07 214.31 L328.79 214.29 L329.51 214.27 L330.22 214.25 L330.94 214.23 L331.66 214.21 L332.37 214.19 L333.09 214.17 L333.81 214.14 L334.52 214.12 L335.24 214.1 L335.96 214.07 L336.67 214.05 L337.39 214.02 L338.11 214 L338.83 213.97 L339.54 213.94 L340.26 213.92 L340.98 213.89 L341.69 213.86 L342.41 213.83 L343.13 213.81 L343.84 213.78 L344.56 213.75 L345.28 213.72 L345.99 213.68 L346.71 213.64 L347.43 213.59 L348.14 213.54 L348.86 213.49 L349.58 213.43 L350.3 213.37 L351.01 213.3 L351.73 213.23 L352.45 213.15 L353.16 213.07 L353.88 212.99 L354.6 212.9 L355.31 212.81 L356.03 212.72 L356.75 212.62 L357.46 212.52 L358.18 212.42 L358.9 212.31 L359.61 212.2 L360.33 212.08 L361.05 211.97 L361.76 211.85 L362.48 211.72 L363.2 211.6 L363.92 211.47 L364.63 211.34 L365.35 211.21 L366.07 211.07 L366.78 210.93 L367.5 210.79 L368.22 210.65 L368.93 210.5 L369.65 210.35 L370.37 210.2 L371.08 210.05 L371.8 209.9 L372.52 209.75 L373.23 209.59 L373.95 209.43 L374.67 209.27 L375.39 209.11 L376.1 208.95 L376.82 208.78 L377.54 208.62 L378.25 208.45 L378.97 208.28 L379.69 208.11 L380.4 207.94 L381.12 207.77 L381.84 207.6 L382.55 207.41 L383.27 207.22 L383.99 207.02 L384.7 206.82 L385.42 206.6 L386.14 206.38 L386.86 206.16 L387.57 205.92 L388.29 205.68 L389.01 205.44 L389.72 205.18 L390.44 204.92 L391.16 204.66 L391.87 204.38 L392.59 204.11 L393.31 203.82 L394.02 203.53 L394.74 203.24 L395.46 202.93 L396.17 202.63 L396.89 202.32 L397.61 202 L398.33 201.68 L399.04 201.35 L399.76 201.02 L400.48 200.68 L401.19 200.34 L401.91 200 L402.63 199.65 L403.34 199.3 L404.06 198.94 L404.78 198.58 L405.49 198.21 L406.21 197.85 L406.93 197.47 L407.64 197.1 L408.36 196.72 L409.08 196.34 L409.79 195.95 L410.51 195.56 L411.23 195.17 L411.95 194.78 L412.66 194.38 L413.38 193.99 L414.1 193.59 L414.81 193.18 L415.53 192.78 L416.25 192.37 L416.96 191.96 L417.68 191.55 L418.4 191.13 L419.11 190.7 L419.83 190.26 L420.55 189.8 L421.26 189.34 L421.98 188.86 L422.7 188.37 L423.42 187.87 L424.13 187.37 L424.85 186.85 L425.57 186.33 L426.28 185.79 L427 185.25 L427.72 184.7 L428.43 184.14 L429.15 183.58 L429.87 183.01 L430.58 182.43 L431.3 181.85 L432.02 181.26 L432.73 180.66 L433.45 180.07 L434.17 179.46 L434.89 178.85 L435.6 178.24 L436.32 177.63 L437.04 177.01 L437.75 176.39 L438.47 175.77 L439.19 175.14 L439.9 174.51 L440.62 173.87 L441.34 173.22 L442.05 172.56 L442.77 171.89 L443.49 171.21 L444.2 170.52 L444.92 169.82 L445.64 169.12 L446.36 168.4 L447.07 167.68 L447.79 166.95 L448.51 166.21 L449.22 165.47 L449.94 164.71 L450.66 163.96 L451.37 163.19 L452.09 162.42 L452.81 161.65 L453.52 160.87 L454.24 160.09 L454.96 159.3 L455.67 158.5 L456.39 157.68 L457.11 156.86 L457.82 156.03 L458.54 155.19 L459.26 154.34 L459.98 153.48 L460.69 152.61 L461.41 151.73 L462.13 150.85 L462.84 149.96 L463.56 149.06 L464.28 148.16 L464.99 147.25 L467.5 145.5 L470.3 142.5 L472.4 136.5 L474.1 129.7 L476.2 120.5 L477.9 112 L479.1 102 L479.6 94 L479.8 80 L479.9 10.5" fill="none" stroke="#888" stroke-width="0.9" stroke-dasharray="18 5.7" clip-path="url(#clipb)"/>
<path d="M483.8 10.5 L484.4 120 L485 160 L485.3 203.4" fill="none" stroke="#888" stroke-width="0.9" stroke-dasharray="18 5.7" clip-path="url(#clipb)"/>
<path d="M485.3 203.4 L485.33 202.01 L485.36 200.71 L485.39 199.51 L485.42 198.38 L485.44 197.33 L485.47 196.34 L485.49 195.4 L485.52 194.52 L485.54 193.67 L485.57 192.84 L485.6 192.04 L485.63 191.26 L485.66 190.47 L485.7 189.68 L485.74 188.87 L485.79 188.05 L485.84 187.19 L485.9 186.29 L485.96 185.35 L486.03 184.34 L486.11 183.27 L486.19 182.13 L486.28 180.91 L486.38 179.62 L486.49 178.27 L486.6 176.88 L486.72 175.48 L486.84 174.06 L486.96 172.65 L487.09 171.26 L487.22 169.91 L487.35 168.62 L487.48 167.4 L487.61 166.25 L487.74 165.19 L487.87 164.21 L487.99 163.29 L488.13 162.43 L488.26 161.63 L488.39 160.87 L488.53 160.15 L488.67 159.46 L488.82 158.79 L488.97 158.14 L489.12 157.5 L489.28 156.87 L489.44 156.25 L489.61 155.64 L489.79 155.04 L489.97 154.45 L490.15 153.86 L490.34 153.29 L490.54 152.73 L490.74 152.18 L490.94 151.65 L491.15 151.12 L491.37 150.61 L491.58 150.11 L491.81 149.63 L492.03 149.16 L492.26 148.7 L492.49 148.26 L492.72 147.83 L492.95 147.41 L493.19 147.01 L493.42 146.63 L493.66 146.25 L493.89 145.9 L494.12 145.55 L494.36 145.21 L494.6 144.88 L494.84 144.55 L495.08 144.22 L495.33 143.89 L495.58 143.55 L495.83 143.2 L496.1 142.84 L496.37 142.47 L496.64 142.09 L496.92 141.69 L497.21 141.3 L497.5 140.9 L497.8 140.5 L498.1 140.1 L498.41 139.72 L498.72 139.34 L499.04 138.98 L499.36 138.64 L499.68 138.33 L500 138.03 L500.33 137.77 L500.67 137.52 L501 137.31 L501.34 137.12 L501.69 136.96 L502.04 136.83 L502.39 136.72 L502.75 136.65 L503.12 136.61 L503.49 136.6 L503.86 136.62 L504.24 136.67 L504.62 136.74 L505.01 136.83 L505.39 136.94 L505.78 137.07 L506.16 137.22 L506.54 137.37 L506.92 137.54 L507.3 137.7 L507.66 137.88 L508.02 138.05 L508.38 138.23 L508.74 138.43 L509.1 138.64 L509.46 138.86 L509.82 139.12 L510.19 139.4 L510.56 139.71 L510.95 140.05 L511.35 140.44 L511.76 140.87 L512.19 141.35 L512.62 141.87 L513.07 142.42 L513.52 143 L513.98 143.62 L514.43 144.25 L514.89 144.91 L515.34 145.58 L515.78 146.26 L516.22 146.94 L516.64 147.63 L517.05 148.32 L517.45 149.01 L517.84 149.71 L518.22 150.41 L518.59 151.13 L518.96 151.86 L519.33 152.61 L519.7 153.38 L520.06 154.17 L520.43 154.99 L520.8 155.84 L521.18 156.72 L521.56 157.62 L521.94 158.56 L522.33 159.51 L522.71 160.49 L523.08 161.48 L523.46 162.49 L523.82 163.51 L524.18 164.54 L524.53 165.59 L524.87 166.63 L525.2 167.68 L525.52 168.74 L525.83 169.79 L526.13 170.85 L526.43 171.9 L526.72 172.96 L527.01 174.01 L527.29 175.06 L527.58 176.1 L527.86 177.14 L528.15 178.17 L528.44 179.2 L528.73 180.22 L529.02 181.24 L529.32 182.27 L529.62 183.3 L529.92 184.33 L530.22 185.38 L530.52 186.44 L530.82 187.51 L531.13 188.61 L531.43 189.73 L531.74 190.87 L532.05 192.03 L532.35 193.2 L532.66 194.4 L532.96 195.6 L533.26 196.81 L533.56 198.02 L533.85 199.24 L534.14 200.46 L534.43 201.67 L534.72 202.87 L534.99 204.06 L535.27 205.23 L535.53 206.39 L535.8 207.52 L536.05 208.63 L536.3 209.72 L536.53 210.77 L536.76 211.78 L536.99 212.77 L537.2 213.7 L537.4 214.6" fill="none" stroke="#888" stroke-width="0.9" stroke-dasharray="18 5.7" clip-path="url(#clipb)"/>
<path d="M308 214.6 L309.05 214.6 L310.09 214.6 L311.14 214.59 L312.19 214.59 L313.24 214.58 L314.28 214.57 L315.33 214.56 L316.38 214.55 L317.43 214.53 L318.47 214.52 L319.52 214.5 L320.57 214.48 L321.62 214.46 L322.66 214.44 L323.71 214.42 L324.76 214.4 L325.81 214.37 L326.85 214.35 L327.9 214.32 L328.95 214.29 L330 214.26 L331.04 214.23 L332.09 214.2 L333.14 214.17 L334.19 214.13 L335.23 214.1 L336.28 214.06 L337.33 214.02 L338.38 213.99 L339.42 213.95 L340.47 213.91 L341.52 213.87 L342.57 213.83 L343.61 213.79 L344.66 213.74 L345.71 213.69 L346.76 213.63 L347.8 213.57 L348.85 213.49 L349.9 213.4 L350.95 213.3 L351.99 213.2 L353.04 213.09 L354.09 212.96 L355.14 212.84 L356.18 212.7 L357.23 212.55 L358.28 212.4 L359.33 212.24 L360.37 212.08 L361.42 211.9 L362.47 211.73 L363.52 211.54 L364.56 211.35 L365.61 211.16 L366.66 210.95 L367.71 210.75 L368.75 210.54 L369.8 210.32 L370.85 210.1 L371.9 209.88 L372.94 209.65 L373.99 209.42 L375.04 209.19 L376.09 208.95 L377.13 208.71 L378.18 208.47 L379.23 208.22 L380.28 207.97 L381.32 207.72 L382.37 207.46 L383.42 207.18 L384.47 206.89 L385.51 206.58 L386.56 206.25 L387.61 205.91 L388.66 205.56 L389.7 205.19 L390.75 204.81 L391.8 204.41 L392.85 204 L393.89 203.58 L394.94 203.15 L395.99 202.71 L397.04 202.25 L398.08 201.79 L399.13 201.31 L400.18 200.82 L401.23 200.33 L402.27 199.82 L403.32 199.31 L404.37 198.78 L405.42 198.25 L406.46 197.71 L407.51 197.17 L408.56 196.61 L409.61 196.05 L410.65 195.49 L411.7 194.91 L412.75 194.34 L413.8 193.75 L414.84 193.17 L415.89 192.57 L416.94 191.98 L417.99 191.38 L419.03 190.75 L420.08 190.1 L421.13 189.43 L422.18 188.73 L423.22 188.01 L424.27 187.27 L425.32 186.52 L426.37 185.74 L427.41 184.94 L428.46 184.13 L429.51 183.31 L430.56 182.47 L431.6 181.61 L432.65 180.75 L433.7 179.87 L434.75 178.98 L435.79 178.09 L436.84 177.19 L437.89 176.28 L438.94 175.36 L439.98 174.44 L441.03 173.5 L442.08 172.53 L443.13 171.54 L444.17 170.53 L445.22 169.5 L446.27 168.45 L447.32 167.38 L448.36 166.3 L449.41 165.2 L450.46 164.09 L451.51 162.96 L452.55 161.81 L453.6 160.66 L454.65 159.49 L455.7 158.31 L456.74 157.11 L457.79 155.88 L458.84 154.64 L459.89 153.38 L460.93 152.11 L461.98 150.81 L463.03 149.5 L464.08 148.16 L465.12 146.81 L466.17 145.44 L467.22 144.06 L468.27 142.66 L469.31 141.24 L470.36 139.8 L471.41 138.35 L472.46 136.88 L473.5 135.39 L474.55 133.88 L475.6 132.35 L476.65 130.79 L477.69 129.22 L478.74 127.62 L479.79 125.99 L480.84 124.34 L481.88 122.66 L482.93 120.96 L483.98 119.22 L485.03 117.45 L486.07 115.57 L487.12 113.6 L488.17 111.58 L489.22 109.57 L490.26 107.61 L491.31 105.75 L492.36 103.99 L493.41 102.28 L494.45 100.57 L495.5 98.83 L496.55 97 L497.6 95.05 L498.64 92.94 L499.69 90.72 L500.74 88.46 L501.79 86.22 L502.83 84.06 L503.88 81.93 L504.93 79.79 L505.98 77.7 L507.02 75.67 L508.07 73.75 L509.12 71.89 L510.17 69.95 L511.21 68.05 L512.26 66.3 L513.31 64.82 L514.36 63.73 L515.4 62.98 L516.45 62.3 L517.5 61.79 L518.55 61.54 L519.59 61.74 L520.64 62.6 L521.69 63.99 L522.74 65.76 L523.78 67.85 L524.83 71.42 L525.88 76.34 L526.93 82.04 L527.97 89.22 L529.02 98.04 L530.07 109.25 L531.12 123.86 L532.16 137.8 L533.21 149.72 L534.26 161.56 L535.31 175.25 L536.35 193.02 L537.4 214.6" fill="none" stroke="#333" stroke-width="1.0" clip-path="url(#clipb)"/>
<path d="M308 214.6 L309.05 214.6 L310.09 214.6 L311.14 214.59 L312.19 214.59 L313.24 214.58 L314.28 214.57 L315.33 214.56 L316.38 214.55 L317.43 214.53 L318.47 214.52 L319.52 214.5 L320.57 214.48 L321.62 214.46 L322.66 214.44 L323.71 214.42 L324.76 214.4 L325.81 214.37 L326.85 214.35 L327.9 214.32 L328.95 214.29 L330 214.26 L331.04 214.23 L332.09 214.2 L333.14 214.17 L334.19 214.13 L335.23 214.1 L336.28 214.06 L337.33 214.02 L338.38 213.99 L339.42 213.95 L340.47 213.91 L341.52 213.87 L342.57 213.83 L343.61 213.79 L344.66 213.74 L345.71 213.69 L346.76 213.63 L347.8 213.57 L348.85 213.49 L349.9 213.4 L350.95 213.3 L351.99 213.2 L353.04 213.09 L354.09 212.96 L355.14 212.84 L356.18 212.7 L357.23 212.55 L358.28 212.4 L359.33 212.24 L360.37 212.08 L361.42 211.9 L362.47 211.73 L363.52 211.54 L364.56 211.35 L365.61 211.16 L366.66 210.95 L367.71 210.75 L368.75 210.54 L369.8 210.32 L370.85 210.1 L371.9 209.88 L372.94 209.65 L373.99 209.42 L375.04 209.19 L376.09 208.95 L377.13 208.71 L378.18 208.47 L379.23 208.22 L380.28 207.97 L381.32 207.72 L382.37 207.46 L383.42 207.18 L384.47 206.89 L385.51 206.58 L386.56 206.25 L387.61 205.91 L388.66 205.56 L389.7 205.19 L390.75 204.81 L391.8 204.41 L392.85 204 L393.89 203.58 L394.94 203.15 L395.99 202.71 L397.04 202.25 L398.08 201.79 L399.13 201.31 L400.18 200.82 L401.23 200.33 L402.27 199.82 L403.32 199.31 L404.37 198.78 L405.42 198.25 L406.46 197.71 L407.51 197.17 L408.56 196.61 L409.61 196.05 L410.65 195.49 L411.7 194.91 L412.75 194.34 L413.8 193.75 L414.84 193.17 L415.89 192.57 L416.94 191.98 L417.99 191.38 L419.03 190.75 L420.08 190.1 L421.13 189.43 L422.18 188.73 L423.22 188.01 L424.27 187.27 L425.32 186.51 L426.37 185.73 L427.41 184.94 L428.46 184.13 L429.51 183.3 L430.56 182.46 L431.6 181.61 L432.65 180.74 L433.7 179.86 L434.75 178.98 L435.79 178.08 L436.84 177.18 L437.89 176.27 L438.94 175.36 L439.98 174.44 L441.03 173.5 L442.08 172.53 L443.13 171.55 L444.17 170.54 L445.22 169.51 L446.27 168.47 L447.32 167.4 L448.36 166.33 L449.41 165.23 L450.46 164.12 L451.51 163 L452.55 161.87 L453.6 160.72 L454.65 159.57 L455.7 158.4 L456.74 157.21 L457.79 156 L458.84 154.78 L459.89 153.54 L460.93 152.28 L461.98 151.01 L463.03 149.72 L464.08 148.41 L465.12 147.08 L466.17 145.73 L467.22 144.37 L468.27 142.99 L469.31 141.59 L470.36 140.16 L471.41 138.71 L472.46 137.23 L473.5 135.73 L474.55 134.22 L475.6 132.68 L476.65 131.12 L477.69 129.55 L478.74 127.96 L479.79 126.35 L480.84 124.74 L481.88 123.11 L482.93 121.47 L483.98 119.83 L485.03 118.17 L486.07 116.48 L487.12 114.75 L488.17 113 L489.22 111.23 L490.26 109.46 L491.31 107.69 L492.36 105.89 L493.41 104.08 L494.45 102.27 L495.5 100.49 L496.55 98.74 L497.6 97.03 L498.64 95.34 L499.69 93.66 L500.74 92.02 L501.79 90.43 L502.83 88.89 L503.88 87.33 L504.93 85.71 L505.98 84.14 L507.02 82.74 L508.07 81.64 L509.12 80.89 L510.17 80.24 L511.21 79.64 L512.26 79.11 L513.31 78.69 L514.36 78.4 L515.4 78.27 L516.45 78.46 L517.5 79.18 L518.55 80.34 L519.59 82.52 L520.64 85.5 L521.69 88.93 L522.74 92.5 L523.78 96.07 L524.83 100.06 L525.88 104.78 L526.93 110.7 L527.97 118.88 L529.02 128.13 L530.07 137.89 L531.12 148.42 L532.16 158.85 L533.21 168.92 L534.26 179.15 L535.31 190.09 L536.35 201.97 L537.4 214.6" fill="none" stroke="#999" stroke-width="0.9" clip-path="url(#clipb)"/>
<path d="M308 214.6 L308.77 214.6 L309.53 214.6 L310.3 214.6 L311.07 214.6 L311.84 214.6 L312.6 214.6 L313.37 214.6 L314.14 214.6 L314.91 214.59 L315.67 214.59 L316.44 214.59 L317.21 214.59 L317.97 214.58 L318.74 214.58 L319.51 214.57 L320.28 214.57 L321.04 214.56 L321.81 214.55 L322.58 214.55 L323.34 214.54 L324.11 214.53 L324.88 214.52 L325.65 214.5 L326.41 214.49 L327.18 214.48 L327.95 214.46 L328.72 214.44 L329.48 214.43 L330.25 214.41 L331.02 214.39 L331.78 214.36 L332.55 214.34 L333.32 214.32 L334.09 214.29 L334.85 214.26 L335.62 214.23 L336.39 214.2 L337.15 214.17 L337.92 214.13 L338.69 214.09 L339.46 214.06 L340.22 214.02 L340.99 213.97 L341.76 213.93 L342.53 213.88 L343.29 213.83 L344.06 213.78 L344.83 213.73 L345.59 213.67 L346.36 213.61 L347.13 213.55 L347.9 213.49 L348.66 213.43 L349.43 213.36 L350.2 213.29 L350.96 213.21 L351.73 213.14 L352.5 213.06 L353.27 212.98 L354.03 212.9 L354.8 212.81 L355.57 212.72 L356.34 212.63 L357.1 212.53 L357.87 212.43 L358.64 212.33 L359.4 212.23 L360.17 212.12 L360.94 212.01 L361.71 211.89 L362.47 211.78 L363.24 211.65 L364.01 211.53 L364.77 211.4 L365.54 211.27 L366.31 211.14 L367.08 211 L367.84 210.86 L368.61 210.71 L369.38 210.56 L370.15 210.41 L370.91 210.25 L371.68 210.09 L372.45 209.92 L373.21 209.75 L373.98 209.58 L374.75 209.4 L375.52 209.22 L376.28 209.04 L377.05 208.85 L377.82 208.65 L378.58 208.46 L379.35 208.25 L380.12 208.05 L380.89 207.83 L381.65 207.62 L382.42 207.4 L383.19 207.17 L383.96 206.94 L384.72 206.71 L385.49 206.47 L386.26 206.23 L387.02 205.98 L387.79 205.72 L388.56 205.46 L389.33 205.2 L390.09 204.93 L390.86 204.66 L391.63 204.38 L392.39 204.1 L393.16 203.81 L393.93 203.51 L394.7 203.21 L395.46 202.91 L396.23 202.6 L397 202.28 L397.77 201.96 L398.53 201.63 L399.3 201.3 L400.07 200.96 L400.83 200.62 L401.6 200.27 L402.37 199.92 L403.14 199.55 L403.9 199.19 L404.67 198.81 L405.44 198.44 L406.2 198.05 L406.97 197.66 L407.74 197.26 L408.51 196.86 L409.27 196.45 L410.04 196.03 L410.81 195.61 L411.58 195.18 L412.34 194.75 L413.11 194.31 L413.88 193.86 L414.64 193.41 L415.41 192.95 L416.18 192.48 L416.95 192 L417.71 191.52 L418.48 191.04 L419.25 190.54 L420.01 190.04 L420.78 189.53 L421.55 189.02 L422.32 188.5 L423.08 187.97 L423.85 187.43 L424.62 186.89 L425.39 186.34 L426.15 185.78 L426.92 185.21 L427.69 184.64 L428.45 184.06 L429.22 183.47 L429.99 182.88 L430.76 182.28 L431.52 181.67 L432.29 181.05 L433.06 180.42 L433.82 179.79 L434.59 179.15 L435.36 178.5 L436.13 177.85 L436.89 177.18 L437.66 176.51 L438.43 175.83 L439.2 175.14 L439.96 174.44 L440.73 173.74 L441.5 173.03 L442.26 172.31 L443.03 171.58 L443.8 170.84 L444.57 170.09 L445.33 169.34 L446.1 168.58 L446.87 167.81 L447.63 167.03 L448.4 166.24 L449.17 165.44 L449.94 164.63 L450.7 163.82 L451.47 163 L452.24 162.16 L453.01 161.32 L453.77 160.47 L454.54 159.61 L455.31 158.75 L456.07 157.87 L456.84 156.98 L457.61 156.09 L458.38 155.18 L459.14 154.27 L459.91 153.34 L460.68 152.41 L461.44 151.47 L462.21 150.52 L462.98 149.56 L463.75 148.58 L464.51 147.6 L465.28 146.61 L466.05 145.61 L466.82 144.6 L467.58 143.59 L468.35 142.56 L469.12 141.52 L469.88 140.47 L470.65 139.41 L471.42 138.34 L472.19 137.26 L472.95 136.17 L473.72 135.07 L474.49 133.96 L475.25 132.84 L476.02 131.71 L476.79 130.57 L477.56 129.42 L478.32 128.26 L479.09 127.09 L479.86 125.9 L480.63 124.71 L481.39 123.51 L482.16 122.29 L482.93 121.07 L483.69 119.83 L484.46 118.58 L485.23 117.33 L486 116.06 L486.76 114.78 L487.53 113.49 L488.3 112.19 L489.06 110.87 L489.83 109.55 L490.6 108.21 L491.37 106.87 L492.13 105.51 L492.9 104.14 L493.67 102.76 L494.44 101.37 L495.2 99.96 L495.97 98.55 L496.74 97.12 L497.5 95.68 L498.27 94.23 L499.04 92.77 L499.81 91.3 L500.57 89.81 L501.34 88.31 L502.11 86.8 L502.87 85.28 L503.64 83.75 L504.41 82.2 L505.18 80.65 L505.94 79.08 L506.71 77.49 L507.48 75.9 L508.25 74.29 L509.01 72.67 L509.78 71.04 L510.55 69.4 L511.31 67.74 L512.08 66.07 L512.85 64.39 L513.62 62.7 L514.38 60.99 L515.15 59.27 L515.92 57.54 L516.68 55.79 L517.45 54.04 L518.22 52.27 L518.99 50.48 L519.75 48.69 L520.52 46.88 L521.29 45.05 L522.06 43.22 L522.82 41.37 L523.59 39.5 L524.36 37.63 L525.12 35.74 L525.89 33.84 L526.66 31.92 L527.43 29.99 L528.19 28.05 L528.96 26.09 L529.73 24.12 L530.49 22.13 L531.26 20.14 L532.03 18.13 L532.8 16.1 L533.56 14.06 L534.33 12.01 L535.1 9.94 L535.87 7.86 L536.63 5.76 L537.4 3.65" fill="none" stroke="#222" stroke-width="1.0" clip-path="url(#clipb)"/>
<rect x="488.68" y="105.71" width="3.4" height="3.4" fill="#000"/>
<rect x="494.56" y="95.81" width="3.4" height="3.4" fill="#000"/>
<rect x="500.45" y="83.76" width="3.4" height="3.4" fill="#000"/>
<rect x="506.33" y="72.12" width="3.4" height="3.4" fill="#000"/>
<rect x="512.87" y="61.87" width="3.4" height="3.4" fill="#000"/>
<rect x="521.78" y="65.47" width="3.4" height="3.4" fill="#000"/>
<rect x="524.78" y="77.79" width="3.4" height="3.4" fill="#000"/>
<rect x="527.7" y="99.9" width="3.4" height="3.4" fill="#000"/>
<rect x="530.18" y="132.62" width="3.4" height="3.4" fill="#000"/>
<rect x="533.76" y="175.82" width="3.4" height="3.4" fill="#000"/>
<path d="M308 212.3L310.3 214.6L308 216.9L305.7 214.6Z" fill="#fff" stroke="#333" stroke-width="0.8"/>
<path d="M316.82 212.24L319.12 214.54L316.82 216.84L314.52 214.54Z" fill="#fff" stroke="#333" stroke-width="0.8"/>
<path d="M325.65 212.08L327.95 214.38L325.65 216.68L323.35 214.38Z" fill="#fff" stroke="#333" stroke-width="0.8"/>
<path d="M334.47 211.82L336.77 214.12L334.47 216.42L332.17 214.12Z" fill="#fff" stroke="#333" stroke-width="0.8"/>
<path d="M343.29 211.5L345.59 213.8L343.29 216.1L340.99 213.8Z" fill="#fff" stroke="#333" stroke-width="0.8"/>
<path d="M352.12 210.89L354.42 213.19L352.12 215.49L349.82 213.19Z" fill="#fff" stroke="#333" stroke-width="0.8"/>
<path d="M360.94 209.68L363.24 211.98L360.94 214.28L358.64 211.98Z" fill="#fff" stroke="#333" stroke-width="0.8"/>
<path d="M369.76 208.03L372.06 210.33L369.76 212.63L367.46 210.33Z" fill="#fff" stroke="#333" stroke-width="0.8"/>
<path d="M378.58 206.07L380.88 208.37L378.58 210.67L376.28 208.37Z" fill="#fff" stroke="#333" stroke-width="0.8"/>
<path d="M387.41 203.68L389.71 205.98L387.41 208.28L385.11 205.98Z" fill="#fff" stroke="#333" stroke-width="0.8"/>
<path d="M396.23 200.3L398.53 202.6L396.23 204.9L393.93 202.6Z" fill="#fff" stroke="#333" stroke-width="0.8"/>
<path d="M405.05 196.14L407.35 198.44L405.05 200.74L402.75 198.44Z" fill="#fff" stroke="#333" stroke-width="0.8"/>
<path d="M413.88 191.41L416.18 193.71L413.88 196.01L411.58 193.71Z" fill="#fff" stroke="#333" stroke-width="0.8"/>
<path d="M422.7 186.07L425 188.37L422.7 190.67L420.4 188.37Z" fill="#fff" stroke="#333" stroke-width="0.8"/>
<path d="M431.52 179.37L433.82 181.67L431.52 183.97L429.22 181.67Z" fill="#fff" stroke="#333" stroke-width="0.8"/>
<path d="M437.41 174.39L439.71 176.69L437.41 178.99L435.11 176.69Z" fill="#fff" stroke="#333" stroke-width="0.8"/>
<path d="M443.29 169.09L445.59 171.39L443.29 173.69L440.99 171.39Z" fill="#fff" stroke="#333" stroke-width="0.8"/>
<path d="M449.18 163.18L451.48 165.48L449.18 167.78L446.88 165.48Z" fill="#fff" stroke="#333" stroke-width="0.8"/>
<path d="M455.06 156.81L457.36 159.11L455.06 161.41L452.76 159.11Z" fill="#fff" stroke="#333" stroke-width="0.8"/>
<path d="M460.95 149.97L463.25 152.27L460.95 154.57L458.65 152.27Z" fill="#fff" stroke="#333" stroke-width="0.8"/>
<path d="M466.83 142.57L469.13 144.87L466.83 147.17L464.53 144.87Z" fill="#fff" stroke="#333" stroke-width="0.8"/>
<path d="M472.72 134.56L475.02 136.86L472.72 139.16L470.42 136.86Z" fill="#fff" stroke="#333" stroke-width="0.8"/>
<path d="M478.6 125.86L480.9 128.16L478.6 130.46L476.3 128.16Z" fill="#fff" stroke="#333" stroke-width="0.8"/>
<path d="M484.49 116.72L486.79 119.02L484.49 121.32L482.19 119.02Z" fill="#fff" stroke="#333" stroke-width="0.8"/>
<path d="M490.38 106.97L492.68 109.27L490.38 111.57L488.08 109.27Z" fill="#fff" stroke="#333" stroke-width="0.8"/>
<path d="M496.26 96.92L498.56 99.22L496.26 101.52L493.96 99.22Z" fill="#fff" stroke="#333" stroke-width="0.8"/>
<path d="M502.15 87.59L504.45 89.89L502.15 92.19L499.85 89.89Z" fill="#fff" stroke="#333" stroke-width="0.8"/>
<path d="M508.03 79.37L510.33 81.67L508.03 83.97L505.73 81.67Z" fill="#fff" stroke="#333" stroke-width="0.8"/>
<path d="M517.86 77.19L520.16 79.49L517.86 81.79L515.56 79.49Z" fill="#fff" stroke="#333" stroke-width="0.8"/>
<path d="M522.97 91L525.27 93.3L522.97 95.6L520.67 93.3Z" fill="#fff" stroke="#333" stroke-width="0.8"/>
<path d="M526.48 105.62L528.78 107.92L526.48 110.22L524.18 107.92Z" fill="#fff" stroke="#333" stroke-width="0.8"/>
<path d="M529.11 126.58L531.41 128.88L529.11 131.18L526.81 128.88Z" fill="#fff" stroke="#333" stroke-width="0.8"/>
<path d="M531.88 153.79L534.18 156.09L531.88 158.39L529.58 156.09Z" fill="#fff" stroke="#333" stroke-width="0.8"/>
<path d="M535.09 185.49L537.39 187.79L535.09 190.09L532.79 187.79Z" fill="#fff" stroke="#333" stroke-width="0.8"/>
<rect x="342.4" y="104.5" width="68.6" height="60" fill="#fff" stroke="#3a3a3a" stroke-width="1"/>
<path d="M342.4 141.6 L363.8 104.5" fill="none" stroke="#333" stroke-width="1.0" clip-path="url(#insB)"/>
<path d="M342.4 144.6 L365.3 104.5" fill="none" stroke="#666" stroke-width="0.9" clip-path="url(#insB)"/>
<path d="M342.4 139.0 L362.2 104.5" fill="none" stroke="#999" stroke-width="0.9" clip-path="url(#insB)"/>
<path d="M352.9 164.5 Q378 133 411 123.9" fill="none" stroke="#555" stroke-width="0.9" stroke-dasharray="5.3 1.5 1 2.5" clip-path="url(#insB)"/>
<path d="M355.6 164.5 Q382 138 411 128.8" fill="none" stroke="#666" stroke-width="0.9" stroke-dasharray="5.2 1.2 0.8 1.0 0.8 1.6" clip-path="url(#insB)"/>
<path d="M358.3 164.5 Q386 143 411 133.4" fill="none" stroke="#555" stroke-width="0.9" stroke-dasharray="5.3 1.5 1 2.5" clip-path="url(#insB)"/>
<rect x="359.55" y="106.65" width="3.1" height="3.1" fill="#000"/>
<rect x="345.25" y="130.95" width="3.1" height="3.1" fill="#000"/>
<circle cx="361.1" cy="113.3" r="1.8" fill="#fff" stroke="#555" stroke-width="0.8"/>
<circle cx="346.8" cy="136.7" r="1.8" fill="#fff" stroke="#555" stroke-width="0.8"/>
<line x1="501.7" y1="115.8" x2="424.77" y2="129.07" stroke="#222" stroke-width="0.9"/>
<path d="M415.9 130.6L424.31 126.41L425.23 131.73Z" fill="#111"/>
<text x="413.3" y="259.5" font-family="Liberation Serif, serif" font-weight="bold" font-size="13.5" text-anchor="middle" fill="#111">(b)</text>
<line x1="33.4" y1="497.5" x2="33.4" y2="493.3" stroke="#111" stroke-width="1"/>
<text x="33.4" y="505.2" font-family="DejaVu Sans, Liberation Sans, sans-serif" stroke="#1a1a1a" stroke-width="0.22" font-size="7.1" text-anchor="middle" fill="#1a1a1a">0</text>
<line x1="69.91" y1="497.5" x2="69.91" y2="493.3" stroke="#111" stroke-width="1"/>
<text x="69.91" y="505.2" font-family="DejaVu Sans, Liberation Sans, sans-serif" stroke="#1a1a1a" stroke-width="0.22" font-size="7.1" text-anchor="middle" fill="#1a1a1a">0.5</text>
<line x1="106.42" y1="497.5" x2="106.42" y2="493.3" stroke="#111" stroke-width="1"/>
<text x="106.42" y="505.2" font-family="DejaVu Sans, Liberation Sans, sans-serif" stroke="#1a1a1a" stroke-width="0.22" font-size="7.1" text-anchor="middle" fill="#1a1a1a">1</text>
<line x1="142.93" y1="497.5" x2="142.93" y2="493.3" stroke="#111" stroke-width="1"/>
<text x="142.93" y="505.2" font-family="DejaVu Sans, Liberation Sans, sans-serif" stroke="#1a1a1a" stroke-width="0.22" font-size="7.1" text-anchor="middle" fill="#1a1a1a">1.5</text>
<line x1="179.44" y1="497.5" x2="179.44" y2="493.3" stroke="#111" stroke-width="1"/>
<text x="179.44" y="505.2" font-family="DejaVu Sans, Liberation Sans, sans-serif" stroke="#1a1a1a" stroke-width="0.22" font-size="7.1" text-anchor="middle" fill="#1a1a1a">2</text>
<line x1="215.95" y1="497.5" x2="215.95" y2="493.3" stroke="#111" stroke-width="1"/>
<text x="215.95" y="505.2" font-family="DejaVu Sans, Liberation Sans, sans-serif" stroke="#1a1a1a" stroke-width="0.22" font-size="7.1" text-anchor="middle" fill="#1a1a1a">2.5</text>
<line x1="252.46" y1="497.5" x2="252.46" y2="493.3" stroke="#111" stroke-width="1"/>
<text x="252.46" y="505.2" font-family="DejaVu Sans, Liberation Sans, sans-serif" stroke="#1a1a1a" stroke-width="0.22" font-size="7.1" text-anchor="middle" fill="#1a1a1a">3</text>
<line x1="33.4" y1="497.5" x2="37.6" y2="497.5" stroke="#111" stroke-width="1"/>
<text x="30.3" y="500" font-family="DejaVu Sans, Liberation Sans, sans-serif" stroke="#1a1a1a" stroke-width="0.22" font-size="6.9" text-anchor="end" fill="#1a1a1a">0</text>
<line x1="33.4" y1="429.5" x2="37.6" y2="429.5" stroke="#111" stroke-width="1"/>
<text x="30.3" y="432" font-family="DejaVu Sans, Liberation Sans, sans-serif" stroke="#1a1a1a" stroke-width="0.22" font-size="6.9" text-anchor="end" fill="#1a1a1a">10</text>
<line x1="33.4" y1="361.5" x2="37.6" y2="361.5" stroke="#111" stroke-width="1"/>
<text x="30.3" y="364" font-family="DejaVu Sans, Liberation Sans, sans-serif" stroke="#1a1a1a" stroke-width="0.22" font-size="6.9" text-anchor="end" fill="#1a1a1a">20</text>
<line x1="33.4" y1="293.5" x2="37.6" y2="293.5" stroke="#111" stroke-width="1"/>
<text x="30.3" y="296" font-family="DejaVu Sans, Liberation Sans, sans-serif" stroke="#1a1a1a" stroke-width="0.22" font-size="6.9" text-anchor="end" fill="#1a1a1a">30</text>
<rect x="33.4" y="293.5" width="229.4" height="204" fill="none" stroke="#111" stroke-width="1.4"/>
<text x="148.1" y="515.9" font-family="DejaVu Sans, Liberation Sans, sans-serif" stroke="#1a1a1a" stroke-width="0.22" font-size="8.1" text-anchor="middle" textLength="73.5" lengthAdjust="spacing" fill="#1a1a1a">Wavenumber (<tspan font-family="Liberation Serif, serif" font-size="8.8">ω</tspan>)</text>
<text transform="translate(14.8 395.2) rotate(-90)" font-family="DejaVu Sans, Liberation Sans, sans-serif" stroke="#1a1a1a" stroke-width="0.22" font-size="8.1" text-anchor="middle" textLength="123" lengthAdjust="spacing" fill="#1a1a1a" xml:space="preserve">Modified wavenumber  (<tspan font-family="Liberation Serif, serif" font-size="8.8">ω</tspan>''')</text>
<text x="124.7" y="333.6" font-family="DejaVu Sans, sans-serif" font-size="7.6" textLength="18" lengthAdjust="spacing" fill="#1a1a1a" stroke="#1a1a1a" stroke-width="0.12">M=3</text>
<path d="M51.2 304.5 L83.8 304.5" fill="none" stroke="#777" stroke-width="1.6"/>
<text x="89.3" y="307.1" font-family="Liberation Sans, Arial, sans-serif" stroke="#222" stroke-width="0.18" font-size="7.2" fill="#222">Exact</text>
<path d="M51.2 313.15 L83.8 313.15" fill="none" stroke="#888" stroke-width="0.9" stroke-dasharray="5.4 4.8"/>
<text x="89.3" y="315.75" font-family="Liberation Sans, Arial, sans-serif" stroke="#222" stroke-width="0.18" font-size="7.2" fill="#222">N=3</text>
<path d="M51.2 321.8 L83.8 321.8" fill="none" stroke="#888" stroke-width="0.9" stroke-dasharray="5.3 1.5 1 2.5"/>
<text x="89.3" y="324.4" font-family="Liberation Sans, Arial, sans-serif" stroke="#222" stroke-width="0.18" font-size="7.2" fill="#222">N=4</text>
<path d="M51.2 330.45 L83.8 330.45" fill="none" stroke="#888" stroke-width="0.9" stroke-dasharray="18 5.7"/>
<text x="89.3" y="333.05" font-family="Liberation Sans, Arial, sans-serif" stroke="#222" stroke-width="0.18" font-size="7.2" fill="#222">N=5</text>
<path d="M51.2 339.1 L83.8 339.1" fill="none" stroke="#666" stroke-width="1.0"/>
<rect x="65.7" y="337.4" width="3.4" height="3.4" fill="#000"/>
<text x="89.3" y="341.7" font-family="Liberation Sans, Arial, sans-serif" stroke="#222" stroke-width="0.18" font-size="7.2" fill="#222">N=6</text>
<path d="M51.2 347.75 L83.8 347.75" fill="none" stroke="#aaa" stroke-width="1.2"/>
<path d="M67.4 345.25L69.9 347.75L67.4 350.25L64.9 347.75Z" fill="#fff" stroke="#333" stroke-width="0.8"/>
<text x="89.3" y="350.35" font-family="Liberation Sans, Arial, sans-serif" stroke="#222" stroke-width="0.18" font-size="7.2" fill="#222">N=7</text>
<path d="M51.2 356.4 L83.8 356.4" fill="none" stroke="#555" stroke-width="1.0"/>
<path d="M65.4 354.8L69.4 354.8L67.4 358.4Z" fill="#000"/>
<text x="89.3" y="359" font-family="Liberation Sans, Arial, sans-serif" stroke="#222" stroke-width="0.18" font-size="7.2" fill="#222">N=8</text>
<path d="M33.4 497.5 L34.45 497.5 L35.49 497.5 L36.54 497.49 L37.59 497.49 L38.64 497.48 L39.68 497.47 L40.73 497.46 L41.78 497.45 L42.83 497.43 L43.87 497.42 L44.92 497.4 L45.97 497.38 L47.02 497.36 L48.06 497.34 L49.11 497.32 L50.16 497.3 L51.21 497.27 L52.25 497.25 L53.3 497.22 L54.35 497.19 L55.4 497.16 L56.44 497.13 L57.49 497.1 L58.54 497.07 L59.59 497.03 L60.63 497 L61.68 496.96 L62.73 496.92 L63.78 496.89 L64.82 496.85 L65.87 496.81 L66.92 496.77 L67.97 496.73 L69.01 496.69 L70.06 496.64 L71.11 496.59 L72.16 496.54 L73.2 496.47 L74.25 496.39 L75.3 496.3 L76.35 496.21 L77.39 496.1 L78.44 495.99 L79.49 495.87 L80.54 495.74 L81.58 495.6 L82.63 495.45 L83.68 495.3 L84.73 495.14 L85.77 494.98 L86.82 494.81 L87.87 494.63 L88.92 494.44 L89.96 494.25 L91.01 494.06 L92.06 493.86 L93.11 493.65 L94.15 493.44 L95.2 493.23 L96.25 493.01 L97.3 492.78 L98.34 492.55 L99.39 492.32 L100.44 492.09 L101.49 491.85 L102.53 491.61 L103.58 491.37 L104.63 491.12 L105.68 490.88 L106.72 490.63 L107.77 490.36 L108.82 490.09 L109.87 489.79 L110.91 489.48 L111.96 489.16 L113.01 488.82 L114.06 488.46 L115.1 488.09 L116.15 487.71 L117.2 487.32 L118.25 486.91 L119.29 486.49 L120.34 486.06 L121.39 485.61 L122.44 485.16 L123.48 484.69 L124.53 484.22 L125.58 483.73 L126.63 483.24 L127.67 482.73 L128.72 482.22 L129.77 481.69 L130.82 481.16 L131.86 480.62 L132.91 480.08 L133.96 479.52 L135.01 478.96 L136.05 478.4 L137.1 477.82 L138.15 477.25 L139.2 476.66 L140.24 476.08 L141.29 475.48 L142.34 474.89 L143.39 474.29 L144.43 473.66 L145.48 473.01 L146.53 472.33 L147.58 471.63 L148.62 470.9 L149.67 470.16 L150.72 469.39 L151.77 468.61 L152.81 467.81 L153.86 466.99 L154.91 466.16 L155.96 465.32 L157 464.47 L158.05 463.6 L159.1 462.73 L160.15 461.85 L161.19 460.96 L162.24 460.07 L163.29 459.17 L164.34 458.27 L165.38 457.37 L166.43 456.45 L167.48 455.5 L168.53 454.54 L169.57 453.56 L170.62 452.56 L171.67 451.55 L172.72 450.53 L173.76 449.5 L174.81 448.45 L175.86 447.4 L176.91 446.35 L177.95 445.29 L179 444.23 L180.05 443.16 L181.1 442.09 L182.14 441 L183.19 439.9 L184.24 438.79 L185.29 437.67 L186.33 436.55 L187.38 435.42 L188.43 434.28 L189.48 433.14 L190.52 431.99 L191.57 430.85 L192.62 429.7 L193.67 428.55 L194.71 427.41 L195.76 426.25 L196.81 425.09 L197.86 423.93 L198.9 422.76 L199.95 421.59 L201 420.41 L202.05 419.24 L203.09 418.06 L204.14 416.88 L205.19 415.7 L206.24 414.52 L207.28 413.35 L208.33 412.18 L209.38 410.99 L210.43 409.75 L211.47 408.48 L212.52 407.2 L213.57 405.92 L214.62 404.66 L215.66 403.44 L216.71 402.29 L217.76 401.22 L218.81 400.24 L219.85 399.38 L220.9 398.51 L221.95 397.63 L223 396.78 L224.04 396.02 L225.09 395.41 L226.14 394.99 L227.19 394.82 L228.23 394.94 L229.28 395.3 L230.33 395.86 L231.38 396.57 L232.42 397.39 L233.47 398.27 L234.52 399.18 L235.57 400.36 L236.61 401.81 L237.66 403.43 L238.71 405.15 L239.76 407.02 L240.8 409.04 L241.85 411.21 L242.9 413.53 L243.95 415.97 L244.99 418.53 L246.04 421.21 L247.09 424 L248.14 426.95 L249.18 430.12 L250.23 433.52 L251.28 437.15 L252.33 441.03 L253.37 445.16 L254.42 449.73 L255.47 454.88 L256.52 460.41 L257.56 466.12 L258.61 471.94 L259.66 477.98 L260.71 484.26 L261.75 490.77 L262.8 497.5" fill="none" stroke="#888" stroke-width="0.9" stroke-dasharray="5.4 4.8" clip-path="url(#clipc)"/>
<path d="M33.4 497.5 L34.45 497.5 L35.49 497.5 L36.54 497.49 L37.59 497.49 L38.64 497.48 L39.68 497.47 L40.73 497.46 L41.78 497.45 L42.83 497.43 L43.87 497.42 L44.92 497.4 L45.97 497.38 L47.02 497.36 L48.06 497.34 L49.11 497.32 L50.16 497.3 L51.21 497.27 L52.25 497.25 L53.3 497.22 L54.35 497.19 L55.4 497.16 L56.44 497.13 L57.49 497.1 L58.54 497.07 L59.59 497.03 L60.63 497 L61.68 496.96 L62.73 496.92 L63.78 496.89 L64.82 496.85 L65.87 496.81 L66.92 496.77 L67.97 496.73 L69.01 496.69 L70.06 496.64 L71.11 496.59 L72.16 496.54 L73.2 496.47 L74.25 496.39 L75.3 496.3 L76.35 496.21 L77.39 496.1 L78.44 495.99 L79.49 495.87 L80.54 495.74 L81.58 495.6 L82.63 495.45 L83.68 495.3 L84.73 495.14 L85.77 494.98 L86.82 494.81 L87.87 494.63 L88.92 494.44 L89.96 494.25 L91.01 494.06 L92.06 493.86 L93.11 493.65 L94.15 493.44 L95.2 493.23 L96.25 493.01 L97.3 492.78 L98.34 492.55 L99.39 492.32 L100.44 492.09 L101.49 491.85 L102.53 491.61 L103.58 491.37 L104.63 491.12 L105.68 490.88 L106.72 490.63 L107.77 490.36 L108.82 490.09 L109.87 489.79 L110.91 489.48 L111.96 489.16 L113.01 488.82 L114.06 488.46 L115.1 488.09 L116.15 487.71 L117.2 487.32 L118.25 486.91 L119.29 486.49 L120.34 486.06 L121.39 485.61 L122.44 485.16 L123.48 484.69 L124.53 484.22 L125.58 483.73 L126.63 483.24 L127.67 482.73 L128.72 482.22 L129.77 481.69 L130.82 481.16 L131.86 480.62 L132.91 480.08 L133.96 479.52 L135.01 478.96 L136.05 478.4 L137.1 477.82 L138.15 477.25 L139.2 476.66 L140.24 476.08 L141.29 475.48 L142.34 474.89 L143.39 474.29 L144.43 473.66 L145.48 473.01 L146.53 472.34 L147.58 471.64 L148.62 470.93 L149.67 470.19 L150.72 469.43 L151.77 468.65 L152.81 467.86 L153.86 467.05 L154.91 466.22 L155.96 465.38 L157 464.53 L158.05 463.66 L159.1 462.79 L160.15 461.9 L161.19 461.01 L162.24 460.1 L163.29 459.2 L164.34 458.28 L165.38 457.36 L166.43 456.42 L167.48 455.45 L168.53 454.47 L169.57 453.46 L170.62 452.44 L171.67 451.39 L172.72 450.33 L173.76 449.24 L174.81 448.14 L175.86 447.03 L176.91 445.9 L177.95 444.75 L179 443.59 L180.05 442.42 L181.1 441.22 L182.14 439.99 L183.19 438.75 L184.24 437.48 L185.29 436.19 L186.33 434.88 L187.38 433.55 L188.43 432.21 L189.48 430.85 L190.52 429.47 L191.57 428.08 L192.62 426.67 L193.67 425.26 L194.71 423.83 L195.76 422.39 L196.81 420.93 L197.86 419.47 L198.9 417.98 L199.95 416.48 L201 414.96 L202.05 413.41 L203.09 411.84 L204.14 410.24 L205.19 408.61 L206.24 406.95 L207.28 405.25 L208.33 403.51 L209.38 401.75 L210.43 399.95 L211.47 398.13 L212.52 396.29 L213.57 394.4 L214.62 392.49 L215.66 390.53 L216.71 388.53 L217.76 386.49 L218.81 384.4 L219.85 382.25 L220.9 380.05 L221.95 377.79 L223 375.47 L224.04 373.09 L225.09 370.56 L226.14 367.79 L227.19 364.88 L228.23 361.92 L229.28 358.99 L230.33 356.19 L231.38 353.44 L232.42 350.72 L233.47 348.02 L234.52 345.34 L235.57 342.69 L236.61 340.07 L237.66 337.5 L238.71 334.9 L239.76 332.19 L240.8 329.46 L241.85 326.81 L242.9 324.33 L243.95 322.12 L244.99 320.27 L246.04 318.64 L247.09 317.09 L248.14 316.09 L249.18 316.17 L250.23 317.79 L251.28 320.48 L252.33 324.21 L253.37 330.97 L254.42 339.26 L255.47 349.65 L256.52 362.52 L257.56 379.44 L258.61 400.03 L259.66 423.68 L260.71 449.66 L261.75 474.01 L262.8 497.5" fill="none" stroke="#888" stroke-width="0.9" stroke-dasharray="5.3 1.5 1 2.5" clip-path="url(#clipc)"/>
<path d="M33.4 497.5 L34.45 497.5 L35.49 497.5 L36.54 497.49 L37.59 497.49 L38.64 497.48 L39.68 497.47 L40.73 497.46 L41.78 497.45 L42.83 497.43 L43.87 497.42 L44.92 497.4 L45.97 497.38 L47.02 497.36 L48.06 497.34 L49.11 497.32 L50.16 497.3 L51.21 497.27 L52.25 497.25 L53.3 497.22 L54.35 497.19 L55.4 497.16 L56.44 497.13 L57.49 497.1 L58.54 497.07 L59.59 497.03 L60.63 497 L61.68 496.96 L62.73 496.92 L63.78 496.89 L64.82 496.85 L65.87 496.81 L66.92 496.77 L67.97 496.73 L69.01 496.69 L70.06 496.64 L71.11 496.59 L72.16 496.54 L73.2 496.47 L74.25 496.39 L75.3 496.3 L76.35 496.21 L77.39 496.1 L78.44 495.99 L79.49 495.87 L80.54 495.74 L81.58 495.6 L82.63 495.45 L83.68 495.3 L84.73 495.14 L85.77 494.98 L86.82 494.81 L87.87 494.63 L88.92 494.44 L89.96 494.25 L91.01 494.06 L92.06 493.86 L93.11 493.65 L94.15 493.44 L95.2 493.23 L96.25 493.01 L97.3 492.78 L98.34 492.55 L99.39 492.32 L100.44 492.09 L101.49 491.85 L102.53 491.61 L103.58 491.37 L104.63 491.12 L105.68 490.88 L106.72 490.63 L107.77 490.36 L108.82 490.09 L109.87 489.79 L110.91 489.48 L111.96 489.16 L113.01 488.82 L114.06 488.46 L115.1 488.09 L116.15 487.71 L117.2 487.32 L118.25 486.91 L119.29 486.49 L120.34 486.06 L121.39 485.61 L122.44 485.16 L123.48 484.69 L124.53 484.22 L125.58 483.73 L126.63 483.24 L127.67 482.73 L128.72 482.22 L129.77 481.69 L130.82 481.16 L131.86 480.62 L132.91 480.08 L133.96 479.52 L135.01 478.96 L136.05 478.4 L137.1 477.82 L138.15 477.25 L139.2 476.66 L140.24 476.08 L141.29 475.48 L142.34 474.89 L143.39 474.29 L144.43 473.66 L145.48 473.01 L146.53 472.34 L147.58 471.64 L148.62 470.93 L149.67 470.19 L150.72 469.43 L151.77 468.65 L152.81 467.86 L153.86 467.05 L154.91 466.22 L155.96 465.38 L157 464.53 L158.05 463.66 L159.1 462.79 L160.15 461.9 L161.19 461.01 L162.24 460.1 L163.29 459.2 L164.34 458.28 L165.38 457.36 L166.43 456.42 L167.48 455.45 L168.53 454.47 L169.57 453.46 L170.62 452.44 L171.67 451.39 L172.72 450.33 L173.76 449.24 L174.81 448.14 L175.86 447.03 L176.91 445.9 L177.95 444.75 L179 443.59 L180.05 442.42 L181.1 441.22 L182.14 439.99 L183.19 438.75 L184.24 437.48 L185.29 436.19 L186.33 434.88 L187.38 433.55 L188.43 432.21 L189.48 430.85 L190.52 429.47 L191.57 428.08 L192.62 426.67 L193.67 425.26 L194.71 423.83 L195.76 422.38 L196.81 420.92 L197.86 419.45 L198.9 417.96 L199.95 416.45 L201 414.92 L202.05 413.36 L203.09 411.79 L204.14 410.19 L205.19 408.56 L206.24 406.9 L207.28 405.22 L208.33 403.51 L209.38 401.77 L210.43 400.02 L211.47 398.25 L212.52 396.47 L213.57 394.66 L214.62 392.82 L215.66 390.95 L216.71 389.04 L217.76 387.08 L218.81 385.07 L219.85 383.01 L220.9 380.88 L221.95 378.7 L223 376.44 L224.04 374.1 L225.09 371.6 L226.14 368.85 L227.19 365.93 L228.23 362.96 L229.28 360.02 L230.33 357.21 L231.38 354.46 L232.42 351.74 L233.47 349.04 L234.52 346.36 L235.57 343.71 L236.61 341.09 L237.66 338.52 L238.71 335.92 L239.76 333.21 L240.8 330.48 L241.85 327.83 L242.9 325.35 L243.95 323.14 L244.99 321.29 L246.04 319.66 L247.09 318.11 L248.14 317.11 L249.18 317.19 L250.23 318.81 L251.28 321.5 L252.33 325.23 L253.37 331.99 L254.42 340.28 L255.47 350.67 L256.52 363.54 L257.56 380.46 L258.61 401.05 L259.66 424.7 L260.71 450.68 L261.75 475.03 L262.8 498.52" fill="none" stroke="#888" stroke-width="0.9" stroke-dasharray="18 5.7" clip-path="url(#clipc)"/>
<path d="M33.4 497.5 L34.45 497.5 L35.49 497.5 L36.54 497.49 L37.59 497.49 L38.64 497.48 L39.68 497.47 L40.73 497.46 L41.78 497.45 L42.83 497.43 L43.87 497.42 L44.92 497.4 L45.97 497.38 L47.02 497.36 L48.06 497.34 L49.11 497.32 L50.16 497.3 L51.21 497.27 L52.25 497.25 L53.3 497.22 L54.35 497.19 L55.4 497.16 L56.44 497.13 L57.49 497.1 L58.54 497.07 L59.59 497.03 L60.63 497 L61.68 496.96 L62.73 496.92 L63.78 496.89 L64.82 496.85 L65.87 496.81 L66.92 496.77 L67.97 496.73 L69.01 496.69 L70.06 496.64 L71.11 496.59 L72.16 496.54 L73.2 496.47 L74.25 496.39 L75.3 496.3 L76.35 496.21 L77.39 496.1 L78.44 495.99 L79.49 495.87 L80.54 495.74 L81.58 495.6 L82.63 495.45 L83.68 495.3 L84.73 495.14 L85.77 494.98 L86.82 494.81 L87.87 494.63 L88.92 494.44 L89.96 494.25 L91.01 494.06 L92.06 493.86 L93.11 493.65 L94.15 493.44 L95.2 493.23 L96.25 493.01 L97.3 492.78 L98.34 492.55 L99.39 492.32 L100.44 492.09 L101.49 491.85 L102.53 491.61 L103.58 491.37 L104.63 491.12 L105.68 490.88 L106.72 490.63 L107.77 490.36 L108.82 490.09 L109.87 489.79 L110.91 489.48 L111.96 489.16 L113.01 488.82 L114.06 488.46 L115.1 488.09 L116.15 487.71 L117.2 487.32 L118.25 486.91 L119.29 486.49 L120.34 486.06 L121.39 485.61 L122.44 485.16 L123.48 484.69 L124.53 484.22 L125.58 483.73 L126.63 483.24 L127.67 482.73 L128.72 482.22 L129.77 481.69 L130.82 481.16 L131.86 480.62 L132.91 480.08 L133.96 479.52 L135.01 478.96 L136.05 478.4 L137.1 477.82 L138.15 477.25 L139.2 476.66 L140.24 476.08 L141.29 475.48 L142.34 474.89 L143.39 474.29 L144.43 473.66 L145.48 473.01 L146.53 472.34 L147.58 471.64 L148.62 470.93 L149.67 470.19 L150.72 469.43 L151.77 468.65 L152.81 467.86 L153.86 467.05 L154.91 466.22 L155.96 465.38 L157 464.53 L158.05 463.66 L159.1 462.79 L160.15 461.9 L161.19 461.01 L162.24 460.1 L163.29 459.2 L164.34 458.28 L165.38 457.36 L166.43 456.42 L167.48 455.45 L168.53 454.46 L169.57 453.45 L170.62 452.42 L171.67 451.37 L172.72 450.3 L173.76 449.22 L174.81 448.12 L175.86 447.01 L176.91 445.88 L177.95 444.74 L179 443.59 L180.05 442.42 L181.1 441.24 L182.14 440.04 L183.19 438.82 L184.24 437.58 L185.29 436.32 L186.33 435.05 L187.38 433.76 L188.43 432.45 L189.48 431.12 L190.52 429.78 L191.57 428.42 L192.62 427.04 L193.67 425.65 L194.71 424.25 L195.76 422.82 L196.81 421.37 L197.86 419.9 L198.9 418.41 L199.95 416.89 L201 415.36 L202.05 413.81 L203.09 412.25 L204.14 410.66 L205.19 409.06 L206.24 407.44 L207.28 405.81 L208.33 404.16 L209.38 402.49 L210.43 400.76 L211.47 398.97 L212.52 397.15 L213.57 395.3 L214.62 393.44 L215.66 391.57 L216.71 389.71 L217.76 387.86 L218.81 386.04 L219.85 384.26 L220.9 382.53 L221.95 380.87 L223 379.22 L224.04 377.53 L225.09 375.81 L226.14 374.09 L227.19 372.41 L228.23 370.77 L229.28 369.22 L230.33 367.78 L231.38 366.48 L232.42 365.34 L233.47 364.39 L234.52 363.59 L235.57 362.79 L236.61 362.05 L237.66 361.44 L238.71 361.01 L239.76 360.82 L240.8 361.12 L241.85 362.14 L242.9 363.72 L243.95 365.67 L244.99 367.84 L246.04 370.15 L247.09 373.28 L248.14 377.13 L249.18 381.42 L250.23 385.9 L251.28 390.89 L252.33 396.44 L253.37 402.41 L254.42 408.72 L255.47 416.23 L256.52 426.64 L257.56 439.27 L258.61 452.43 L259.66 466.53 L260.71 479.53 L261.75 489.66 L262.8 497.5" fill="none" stroke="#333" stroke-width="1.0" clip-path="url(#clipc)"/>
<path d="M33.4 497.5 L34.17 497.5 L34.93 497.5 L35.7 497.5 L36.47 497.5 L37.24 497.5 L38 497.5 L38.77 497.5 L39.54 497.5 L40.31 497.49 L41.07 497.49 L41.84 497.49 L42.61 497.49 L43.37 497.48 L44.14 497.48 L44.91 497.47 L45.68 497.47 L46.44 497.46 L47.21 497.45 L47.98 497.45 L48.74 497.44 L49.51 497.43 L50.28 497.42 L51.05 497.4 L51.81 497.39 L52.58 497.38 L53.35 497.36 L54.12 497.34 L54.88 497.33 L55.65 497.31 L56.42 497.29 L57.18 497.27 L57.95 497.24 L58.72 497.22 L59.49 497.19 L60.25 497.16 L61.02 497.13 L61.79 497.1 L62.55 497.07 L63.32 497.03 L64.09 497 L64.86 496.96 L65.62 496.92 L66.39 496.87 L67.16 496.83 L67.93 496.78 L68.69 496.73 L69.46 496.68 L70.23 496.63 L70.99 496.57 L71.76 496.51 L72.53 496.45 L73.3 496.39 L74.06 496.33 L74.83 496.26 L75.6 496.19 L76.36 496.11 L77.13 496.04 L77.9 495.96 L78.67 495.88 L79.43 495.8 L80.2 495.71 L80.97 495.62 L81.74 495.53 L82.5 495.43 L83.27 495.33 L84.04 495.23 L84.8 495.13 L85.57 495.02 L86.34 494.91 L87.11 494.79 L87.87 494.68 L88.64 494.56 L89.41 494.43 L90.17 494.3 L90.94 494.17 L91.71 494.04 L92.48 493.9 L93.24 493.76 L94.01 493.61 L94.78 493.46 L95.55 493.31 L96.31 493.15 L97.08 492.99 L97.85 492.82 L98.61 492.66 L99.38 492.48 L100.15 492.31 L100.92 492.12 L101.68 491.94 L102.45 491.75 L103.22 491.56 L103.98 491.36 L104.75 491.16 L105.52 490.95 L106.29 490.74 L107.05 490.52 L107.82 490.3 L108.59 490.08 L109.36 489.85 L110.12 489.61 L110.89 489.37 L111.66 489.13 L112.42 488.88 L113.19 488.63 L113.96 488.37 L114.73 488.11 L115.49 487.84 L116.26 487.56 L117.03 487.29 L117.79 487 L118.56 486.71 L119.33 486.42 L120.1 486.12 L120.86 485.81 L121.63 485.5 L122.4 485.19 L123.17 484.87 L123.93 484.54 L124.7 484.21 L125.47 483.87 L126.23 483.53 L127 483.18 L127.77 482.82 L128.54 482.46 L129.3 482.09 L130.07 481.72 L130.84 481.34 L131.6 480.96 L132.37 480.57 L133.14 480.17 L133.91 479.77 L134.67 479.36 L135.44 478.94 L136.21 478.52 L136.98 478.09 L137.74 477.66 L138.51 477.22 L139.28 476.77 L140.04 476.32 L140.81 475.86 L141.58 475.39 L142.35 474.92 L143.11 474.44 L143.88 473.95 L144.65 473.45 L145.41 472.95 L146.18 472.44 L146.95 471.93 L147.72 471.41 L148.48 470.88 L149.25 470.34 L150.02 469.8 L150.79 469.25 L151.55 468.69 L152.32 468.13 L153.09 467.56 L153.85 466.98 L154.62 466.39 L155.39 465.79 L156.16 465.19 L156.92 464.58 L157.69 463.97 L158.46 463.34 L159.22 462.71 L159.99 462.07 L160.76 461.42 L161.53 460.76 L162.29 460.1 L163.06 459.43 L163.83 458.75 L164.6 458.06 L165.36 457.36 L166.13 456.66 L166.9 455.95 L167.66 455.23 L168.43 454.5 L169.2 453.76 L169.97 453.02 L170.73 452.26 L171.5 451.5 L172.27 450.73 L173.03 449.95 L173.8 449.16 L174.57 448.36 L175.34 447.56 L176.1 446.74 L176.87 445.92 L177.64 445.09 L178.41 444.25 L179.17 443.4 L179.94 442.54 L180.71 441.67 L181.47 440.8 L182.24 439.91 L183.01 439.01 L183.78 438.11 L184.54 437.2 L185.31 436.27 L186.08 435.34 L186.84 434.4 L187.61 433.45 L188.38 432.49 L189.15 431.52 L189.91 430.54 L190.68 429.55 L191.45 428.55 L192.22 427.54 L192.98 426.52 L193.75 425.49 L194.52 424.45 L195.28 423.4 L196.05 422.35 L196.82 421.28 L197.59 420.2 L198.35 419.11 L199.12 418.01 L199.89 416.9 L200.65 415.78 L201.42 414.65 L202.19 413.51 L202.96 412.36 L203.72 411.2 L204.49 410.03 L205.26 408.85 L206.03 407.66 L206.79 406.45 L207.56 405.24 L208.33 404.01 L209.09 402.78 L209.86 401.53 L210.63 400.27 L211.4 399.01 L212.16 397.73 L212.93 396.44 L213.7 395.14 L214.46 393.82 L215.23 392.5 L216 391.17 L216.77 389.82 L217.53 388.46 L218.3 387.09 L219.07 385.71 L219.84 384.32 L220.6 382.92 L221.37 381.5 L222.14 380.08 L222.9 378.64 L223.67 377.19 L224.44 375.73 L225.21 374.26 L225.97 372.77 L226.74 371.27 L227.51 369.77 L228.27 368.25 L229.04 366.71 L229.81 365.17 L230.58 363.61 L231.34 362.04 L232.11 360.46 L232.88 358.87 L233.65 357.26 L234.41 355.64 L235.18 354.01 L235.95 352.37 L236.71 350.71 L237.48 349.05 L238.25 347.37 L239.02 345.67 L239.78 343.97 L240.55 342.25 L241.32 340.52 L242.08 338.77 L242.85 337.02 L243.62 335.25 L244.39 333.46 L245.15 331.67 L245.92 329.86 L246.69 328.04 L247.46 326.2 L248.22 324.35 L248.99 322.49 L249.76 320.61 L250.52 318.73 L251.29 316.82 L252.06 314.91 L252.83 312.98 L253.59 311.04 L254.36 309.08 L255.13 307.11 L255.89 305.13 L256.66 303.13 L257.43 301.12 L258.2 299.1 L258.96 297.06 L259.73 295.01 L260.5 292.94 L261.27 290.86 L262.03 288.77 L262.8 286.66" fill="none" stroke="#222" stroke-width="1.0" clip-path="url(#clipc)"/>
<rect x="31.65" y="495.75" width="3.5" height="3.5" fill="#000"/>
<path d="M31.4 495.9L35.4 495.9L33.4 499.5Z" fill="#000"/>
<rect x="43.26" y="495.65" width="3.5" height="3.5" fill="#000"/>
<path d="M56.91 494.92L59.11 497.12L56.91 499.32L54.71 497.12Z" fill="#fff" stroke="#333" stroke-width="0.8"/>
<path d="M65.72 495.14L69.72 495.14L67.72 498.74Z" fill="#000"/>
<rect x="71.81" y="494.69" width="3.5" height="3.5" fill="#000"/>
<path d="M79.69 493.64L81.89 495.84L79.69 498.04L77.49 495.84Z" fill="#fff" stroke="#333" stroke-width="0.8"/>
<rect x="90.43" y="492.08" width="3.5" height="3.5" fill="#000"/>
<path d="M103.94 489.09L106.14 491.29L103.94 493.49L101.74 491.29Z" fill="#fff" stroke="#333" stroke-width="0.8"/>
<rect x="114.16" y="486.05" width="3.5" height="3.5" fill="#000"/>
<path d="M127.67 480.53L129.87 482.73L127.67 484.93L125.47 482.73Z" fill="#fff" stroke="#333" stroke-width="0.8"/>
<rect x="137.89" y="474.66" width="3.5" height="3.5" fill="#000"/>
<path d="M151.04 467L153.24 469.2L151.04 471.4L148.84 469.2Z" fill="#fff" stroke="#333" stroke-width="0.8"/>
<path d="M155.53 462.49L159.53 462.49L157.53 466.09Z" fill="#000"/>
<rect x="161.48" y="457.5" width="3.5" height="3.5" fill="#000"/>
<path d="M175.06 445.66L177.26 447.86L175.06 450.06L172.86 447.86Z" fill="#fff" stroke="#333" stroke-width="0.8"/>
<rect x="185.28" y="432.44" width="3.5" height="3.5" fill="#000"/>
<rect x="196.38" y="417.75" width="3.5" height="3.5" fill="#000"/>
<rect x="208.43" y="399.41" width="3.5" height="3.5" fill="#000"/>
<path d="M222.16 378.34L224.36 380.54L222.16 382.74L219.96 380.54Z" fill="#fff" stroke="#333" stroke-width="0.8"/>
<rect x="231.94" y="362.47" width="3.5" height="3.5" fill="#000"/>
<rect x="238.15" y="359.07" width="3.5" height="3.5" fill="#000"/>
<path d="M245.82 367.4L248.02 369.6L245.82 371.8L243.62 369.6Z" fill="#fff" stroke="#333" stroke-width="0.8"/>
<rect x="255.97" y="439.38" width="3.5" height="3.5" fill="#000"/>
<rect x="68.2" y="387.3" width="68.3" height="59.7" fill="#fff" stroke="#3a3a3a" stroke-width="1"/>
<path d="M68.2 402.1 L111 390.6 L136.5 402.6" fill="none" stroke="#555" stroke-width="0.9" clip-path="url(#insC)"/>
<path d="M68.2 412 L111 401 L136.5 414.5" fill="none" stroke="#777" stroke-width="0.9" clip-path="url(#insC)"/>
<path d="M68.2 446.5 L111 439.1 L124 448" fill="none" stroke="#333" stroke-width="1.0" clip-path="url(#insC)"/>
<path d="M109 389.8L113 389.8L111 393.4Z" fill="#000"/>
<circle cx="111" cy="401" r="2" fill="#fff" stroke="#555" stroke-width="0.8"/>
<rect x="109.3" y="437.4" width="3.4" height="3.4" fill="#000"/>
<line x1="237" y1="368.3" x2="150.77" y2="396.04" stroke="#222" stroke-width="0.9"/>
<path d="M142.2 398.8L149.94 393.47L151.59 398.61Z" fill="#111"/>
<text x="138.3" y="542.6" font-family="Liberation Serif, serif" font-weight="bold" font-size="13.5" text-anchor="middle" fill="#111">(c)</text>
<line x1="307.9" y1="497.5" x2="307.9" y2="493.3" stroke="#111" stroke-width="1"/>
<text x="307.9" y="505.2" font-family="DejaVu Sans, Liberation Sans, sans-serif" stroke="#1a1a1a" stroke-width="0.22" font-size="7.1" text-anchor="middle" fill="#1a1a1a">0</text>
<line x1="344.43" y1="497.5" x2="344.43" y2="493.3" stroke="#111" stroke-width="1"/>
<text x="344.43" y="505.2" font-family="DejaVu Sans, Liberation Sans, sans-serif" stroke="#1a1a1a" stroke-width="0.22" font-size="7.1" text-anchor="middle" fill="#1a1a1a">0.5</text>
<line x1="380.95" y1="497.5" x2="380.95" y2="493.3" stroke="#111" stroke-width="1"/>
<text x="380.95" y="505.2" font-family="DejaVu Sans, Liberation Sans, sans-serif" stroke="#1a1a1a" stroke-width="0.22" font-size="7.1" text-anchor="middle" fill="#1a1a1a">1</text>
<line x1="417.48" y1="497.5" x2="417.48" y2="493.3" stroke="#111" stroke-width="1"/>
<text x="417.48" y="505.2" font-family="DejaVu Sans, Liberation Sans, sans-serif" stroke="#1a1a1a" stroke-width="0.22" font-size="7.1" text-anchor="middle" fill="#1a1a1a">1.5</text>
<line x1="454" y1="497.5" x2="454" y2="493.3" stroke="#111" stroke-width="1"/>
<text x="454" y="505.2" font-family="DejaVu Sans, Liberation Sans, sans-serif" stroke="#1a1a1a" stroke-width="0.22" font-size="7.1" text-anchor="middle" fill="#1a1a1a">2</text>
<line x1="490.53" y1="497.5" x2="490.53" y2="493.3" stroke="#111" stroke-width="1"/>
<text x="490.53" y="505.2" font-family="DejaVu Sans, Liberation Sans, sans-serif" stroke="#1a1a1a" stroke-width="0.22" font-size="7.1" text-anchor="middle" fill="#1a1a1a">2.5</text>
<line x1="527.06" y1="497.5" x2="527.06" y2="493.3" stroke="#111" stroke-width="1"/>
<text x="527.06" y="505.2" font-family="DejaVu Sans, Liberation Sans, sans-serif" stroke="#1a1a1a" stroke-width="0.22" font-size="7.1" text-anchor="middle" fill="#1a1a1a">3</text>
<line x1="307.9" y1="497.5" x2="312.1" y2="497.5" stroke="#111" stroke-width="1"/>
<text x="304.8" y="500" font-family="DejaVu Sans, Liberation Sans, sans-serif" stroke="#1a1a1a" stroke-width="0.22" font-size="6.9" text-anchor="end" fill="#1a1a1a">0</text>
<line x1="307.9" y1="429.47" x2="312.1" y2="429.47" stroke="#111" stroke-width="1"/>
<text x="304.8" y="431.97" font-family="DejaVu Sans, Liberation Sans, sans-serif" stroke="#1a1a1a" stroke-width="0.22" font-size="6.9" text-anchor="end" fill="#1a1a1a">10</text>
<line x1="307.9" y1="361.43" x2="312.1" y2="361.43" stroke="#111" stroke-width="1"/>
<text x="304.8" y="363.93" font-family="DejaVu Sans, Liberation Sans, sans-serif" stroke="#1a1a1a" stroke-width="0.22" font-size="6.9" text-anchor="end" fill="#1a1a1a">20</text>
<line x1="307.9" y1="293.4" x2="312.1" y2="293.4" stroke="#111" stroke-width="1"/>
<text x="304.8" y="295.9" font-family="DejaVu Sans, Liberation Sans, sans-serif" stroke="#1a1a1a" stroke-width="0.22" font-size="6.9" text-anchor="end" fill="#1a1a1a">30</text>
<rect x="307.9" y="293.4" width="229.5" height="204.1" fill="none" stroke="#111" stroke-width="1.4"/>
<text x="422.65" y="515.9" font-family="DejaVu Sans, Liberation Sans, sans-serif" stroke="#1a1a1a" stroke-width="0.22" font-size="8.1" text-anchor="middle" textLength="73.5" lengthAdjust="spacing" fill="#1a1a1a">Wavenumber (<tspan font-family="Liberation Serif, serif" font-size="8.8">ω</tspan>)</text>
<text transform="translate(289.3 395.15) rotate(-90)" font-family="DejaVu Sans, Liberation Sans, sans-serif" stroke="#1a1a1a" stroke-width="0.22" font-size="8.1" text-anchor="middle" textLength="123" lengthAdjust="spacing" fill="#1a1a1a" xml:space="preserve">Modified wavenumber  (<tspan font-family="Liberation Serif, serif" font-size="8.8">ω</tspan>''')</text>
<text x="399.2" y="333.5" font-family="DejaVu Sans, sans-serif" font-size="7.6" textLength="18" lengthAdjust="spacing" fill="#1a1a1a" stroke="#1a1a1a" stroke-width="0.12">M=4</text>
<path d="M325.7 304.4 L358.3 304.4" fill="none" stroke="#777" stroke-width="1.6"/>
<text x="363.8" y="307" font-family="Liberation Sans, Arial, sans-serif" stroke="#222" stroke-width="0.18" font-size="7.2" fill="#222">Exact</text>
<path d="M325.7 313.05 L358.3 313.05" fill="none" stroke="#666" stroke-width="0.9" stroke-dasharray="5.3 1.5 1 2.5"/>
<text x="363.8" y="315.65" font-family="Liberation Sans, Arial, sans-serif" stroke="#222" stroke-width="0.18" font-size="7.2" fill="#222">N=4</text>
<path d="M325.7 321.7 L358.3 321.7" fill="none" stroke="#aaa" stroke-width="1.5" stroke-dasharray="18 5.7"/>
<text x="363.8" y="324.3" font-family="Liberation Sans, Arial, sans-serif" stroke="#222" stroke-width="0.18" font-size="7.2" fill="#222">N=5</text>
<path d="M325.7 330.35 L358.3 330.35" fill="none" stroke="#666" stroke-width="1.0"/>
<rect x="340.2" y="328.65" width="3.4" height="3.4" fill="#000"/>
<text x="363.8" y="332.95" font-family="Liberation Sans, Arial, sans-serif" stroke="#222" stroke-width="0.18" font-size="7.2" fill="#222">N=6</text>
<path d="M325.7 339 L358.3 339" fill="none" stroke="#aaa" stroke-width="1.2"/>
<path d="M341.9 336.5L344.4 339L341.9 341.5L339.4 339Z" fill="#fff" stroke="#333" stroke-width="0.8"/>
<text x="363.8" y="341.6" font-family="Liberation Sans, Arial, sans-serif" stroke="#222" stroke-width="0.18" font-size="7.2" fill="#222">N=7</text>
<path d="M325.7 347.65 L358.3 347.65" fill="none" stroke="#555" stroke-width="1.0"/>
<path d="M339.9 346.05L343.9 346.05L341.9 349.65Z" fill="#000"/>
<text x="363.8" y="350.25" font-family="Liberation Sans, Arial, sans-serif" stroke="#222" stroke-width="0.18" font-size="7.2" fill="#222">N=8</text>
<path d="M307.9 497.5 L308.95 497.5 L310 497.5 L311.04 497.49 L312.09 497.49 L313.14 497.48 L314.19 497.47 L315.24 497.46 L316.28 497.45 L317.33 497.43 L318.38 497.42 L319.43 497.4 L320.48 497.38 L321.52 497.36 L322.57 497.34 L323.62 497.32 L324.67 497.3 L325.72 497.27 L326.76 497.25 L327.81 497.22 L328.86 497.19 L329.91 497.16 L330.95 497.13 L332 497.1 L333.05 497.07 L334.1 497.03 L335.15 497 L336.19 496.96 L337.24 496.92 L338.29 496.89 L339.34 496.85 L340.39 496.81 L341.43 496.77 L342.48 496.73 L343.53 496.69 L344.58 496.64 L345.63 496.59 L346.67 496.53 L347.72 496.47 L348.77 496.39 L349.82 496.3 L350.87 496.2 L351.91 496.1 L352.96 495.99 L354.01 495.86 L355.06 495.74 L356.11 495.6 L357.15 495.45 L358.2 495.3 L359.25 495.14 L360.3 494.98 L361.35 494.8 L362.39 494.63 L363.44 494.44 L364.49 494.25 L365.54 494.06 L366.58 493.85 L367.63 493.65 L368.68 493.44 L369.73 493.22 L370.78 493 L371.82 492.78 L372.87 492.55 L373.92 492.32 L374.97 492.09 L376.02 491.85 L377.06 491.61 L378.11 491.37 L379.16 491.12 L380.21 490.87 L381.26 490.62 L382.3 490.36 L383.35 490.08 L384.4 489.79 L385.45 489.48 L386.5 489.15 L387.54 488.81 L388.59 488.46 L389.64 488.09 L390.69 487.71 L391.74 487.31 L392.78 486.9 L393.83 486.48 L394.88 486.05 L395.93 485.61 L396.98 485.15 L398.02 484.69 L399.07 484.21 L400.12 483.72 L401.17 483.23 L402.22 482.72 L403.26 482.21 L404.31 481.68 L405.36 481.15 L406.41 480.61 L407.45 480.07 L408.5 479.51 L409.55 478.95 L410.6 478.39 L411.65 477.81 L412.69 477.24 L413.74 476.65 L414.79 476.07 L415.84 475.47 L416.89 474.88 L417.93 474.28 L418.98 473.65 L420.03 473 L421.08 472.33 L422.13 471.63 L423.17 470.91 L424.22 470.17 L425.27 469.42 L426.32 468.64 L427.37 467.84 L428.41 467.03 L429.46 466.21 L430.51 465.37 L431.56 464.51 L432.61 463.65 L433.65 462.77 L434.7 461.88 L435.75 460.99 L436.8 460.09 L437.85 459.18 L438.89 458.26 L439.94 457.34 L440.99 456.4 L442.04 455.43 L443.08 454.44 L444.13 453.43 L445.18 452.4 L446.23 451.35 L447.28 450.28 L448.32 449.2 L449.37 448.1 L450.42 446.98 L451.47 445.85 L452.52 444.71 L453.56 443.56 L454.61 442.4 L455.66 441.21 L456.71 440.01 L457.76 438.79 L458.8 437.55 L459.85 436.29 L460.9 435.02 L461.95 433.72 L463 432.41 L464.04 431.09 L465.09 429.74 L466.14 428.39 L467.19 427.01 L468.24 425.62 L469.28 424.21 L470.33 422.78 L471.38 421.31 L472.43 419.83 L473.48 418.32 L474.52 416.8 L475.57 415.25 L476.62 413.69 L477.67 412.12 L478.72 410.53 L479.76 408.93 L480.81 407.33 L481.86 405.72 L482.91 404.1 L483.95 402.48 L485 400.81 L486.05 399.1 L487.1 397.38 L488.15 395.64 L489.19 393.9 L490.24 392.17 L491.29 390.46 L492.34 388.78 L493.39 387.14 L494.43 385.55 L495.48 383.95 L496.53 382.35 L497.58 380.77 L498.63 379.22 L499.67 377.72 L500.72 376.3 L501.77 374.97 L502.82 373.76 L503.87 372.6 L504.91 371.48 L505.96 370.43 L507.01 369.46 L508.06 368.61 L509.11 367.88 L510.15 367.21 L511.2 366.54 L512.25 365.94 L513.3 365.47 L514.35 365.21 L515.39 365.25 L516.44 365.83 L517.49 366.88 L518.54 368.3 L519.58 369.99 L520.63 371.85 L521.68 374.35 L522.73 378.02 L523.78 382.57 L524.82 387.74 L525.87 393.26 L526.92 398.93 L527.97 405.16 L529.02 412.07 L530.06 419.64 L531.11 427.87 L532.16 436.75 L533.21 446.33 L534.26 457.3 L535.3 469.68 L536.35 483.18 L537.4 497.5" fill="none" stroke="#888" stroke-width="0.9" stroke-dasharray="5.3 1.5 1 2.5" clip-path="url(#clipd)"/>
<path d="M520.4 293.4 L520.4 497.5" fill="none" stroke="#777" stroke-width="0.9"/>
<path d="M307.9 497.5 L308.95 497.5 L310 497.5 L311.04 497.49 L312.09 497.49 L313.14 497.48 L314.19 497.47 L315.24 497.46 L316.28 497.45 L317.33 497.43 L318.38 497.42 L319.43 497.4 L320.48 497.38 L321.52 497.36 L322.57 497.34 L323.62 497.32 L324.67 497.3 L325.72 497.27 L326.76 497.25 L327.81 497.22 L328.86 497.19 L329.91 497.16 L330.95 497.13 L332 497.1 L333.05 497.07 L334.1 497.03 L335.15 497 L336.19 496.96 L337.24 496.92 L338.29 496.89 L339.34 496.85 L340.39 496.81 L341.43 496.77 L342.48 496.73 L343.53 496.69 L344.58 496.64 L345.63 496.59 L346.67 496.53 L347.72 496.47 L348.77 496.39 L349.82 496.3 L350.87 496.2 L351.91 496.1 L352.96 495.99 L354.01 495.86 L355.06 495.74 L356.11 495.6 L357.15 495.45 L358.2 495.3 L359.25 495.14 L360.3 494.98 L361.35 494.8 L362.39 494.63 L363.44 494.44 L364.49 494.25 L365.54 494.06 L366.58 493.85 L367.63 493.65 L368.68 493.44 L369.73 493.22 L370.78 493 L371.82 492.78 L372.87 492.55 L373.92 492.32 L374.97 492.09 L376.02 491.85 L377.06 491.61 L378.11 491.37 L379.16 491.12 L380.21 490.87 L381.26 490.62 L382.3 490.36 L383.35 490.08 L384.4 489.79 L385.45 489.48 L386.5 489.15 L387.54 488.81 L388.59 488.46 L389.64 488.09 L390.69 487.71 L391.74 487.31 L392.78 486.9 L393.83 486.48 L394.88 486.05 L395.93 485.61 L396.98 485.15 L398.02 484.69 L399.07 484.21 L400.12 483.72 L401.17 483.23 L402.22 482.72 L403.26 482.21 L404.31 481.68 L405.36 481.15 L406.41 480.61 L407.45 480.07 L408.5 479.51 L409.55 478.95 L410.6 478.39 L411.65 477.81 L412.69 477.24 L413.74 476.65 L414.79 476.07 L415.84 475.47 L416.89 474.88 L417.93 474.28 L418.98 473.65 L420.03 473 L421.08 472.33 L422.13 471.63 L423.17 470.91 L424.22 470.17 L425.27 469.42 L426.32 468.64 L427.37 467.84 L428.41 467.03 L429.46 466.21 L430.51 465.37 L431.56 464.51 L432.61 463.65 L433.65 462.77 L434.7 461.88 L435.75 460.99 L436.8 460.09 L437.85 459.18 L438.89 458.26 L439.94 457.34 L440.99 456.4 L442.04 455.43 L443.08 454.44 L444.13 453.43 L445.18 452.4 L446.23 451.35 L447.28 450.28 L448.32 449.2 L449.37 448.1 L450.42 446.98 L451.47 445.85 L452.52 444.71 L453.56 443.56 L454.61 442.4 L455.66 441.21 L456.71 440.01 L457.76 438.79 L458.8 437.55 L459.85 436.29 L460.9 435.02 L461.95 433.72 L463 432.41 L464.04 431.09 L465.09 429.74 L466.14 428.39 L467.19 427.01 L468.24 425.62 L469.28 424.21 L470.33 422.78 L471.38 421.31 L472.43 419.83 L473.48 418.32 L474.52 416.8 L475.57 415.25 L476.62 413.69 L477.67 412.12 L478.72 410.53 L479.76 408.93 L480.81 407.33 L481.86 405.72 L482.91 404.1 L483.95 402.48 L485 400.84 L486.05 399.19 L487.1 397.52 L488.15 395.83 L489.19 394.13 L490.24 392.42 L491.29 390.7 L492.34 388.98 L493.39 387.25 L494.43 385.5 L495.48 383.67 L496.53 381.75 L497.58 379.79 L498.63 377.85 L499.67 375.99 L500.72 374.25 L501.77 372.69 L502.82 371.36 L503.87 370.16 L504.91 369.03 L505.96 367.99 L507.01 367.05 L508.06 366.22 L509.11 365.5 L510.15 364.83 L511.2 364.16 L512.25 363.56 L513.3 363.09 L514.35 362.83 L515.39 362.87 L516.44 363.45 L517.49 364.5 L518.54 365.92 L519.58 367.61 L520.63 369.47 L521.68 371.97 L522.73 375.64 L523.78 380.19 L524.82 385.36 L525.87 390.88 L526.92 396.54 L527.97 402.74 L529.02 409.59 L530.06 417.11 L531.11 425.34 L532.16 434.28 L533.21 444 L534.26 455.33 L535.3 468.25 L536.35 482.42 L537.4 497.5" fill="none" stroke="#333" stroke-width="1.0" clip-path="url(#clipd)"/>
<path d="M307.9 497.5 L308.95 497.5 L310 497.5 L311.04 497.49 L312.09 497.49 L313.14 497.48 L314.19 497.47 L315.24 497.46 L316.28 497.45 L317.33 497.43 L318.38 497.42 L319.43 497.4 L320.48 497.38 L321.52 497.36 L322.57 497.34 L323.62 497.32 L324.67 497.3 L325.72 497.27 L326.76 497.25 L327.81 497.22 L328.86 497.19 L329.91 497.16 L330.95 497.13 L332 497.1 L333.05 497.07 L334.1 497.03 L335.15 497 L336.19 496.96 L337.24 496.92 L338.29 496.89 L339.34 496.85 L340.39 496.81 L341.43 496.77 L342.48 496.73 L343.53 496.69 L344.58 496.64 L345.63 496.59 L346.67 496.53 L347.72 496.47 L348.77 496.39 L349.82 496.3 L350.87 496.2 L351.91 496.1 L352.96 495.99 L354.01 495.86 L355.06 495.74 L356.11 495.6 L357.15 495.45 L358.2 495.3 L359.25 495.14 L360.3 494.98 L361.35 494.8 L362.39 494.63 L363.44 494.44 L364.49 494.25 L365.54 494.06 L366.58 493.85 L367.63 493.65 L368.68 493.44 L369.73 493.22 L370.78 493 L371.82 492.78 L372.87 492.55 L373.92 492.32 L374.97 492.09 L376.02 491.85 L377.06 491.61 L378.11 491.37 L379.16 491.12 L380.21 490.87 L381.26 490.62 L382.3 490.36 L383.35 490.08 L384.4 489.79 L385.45 489.48 L386.5 489.15 L387.54 488.81 L388.59 488.46 L389.64 488.09 L390.69 487.71 L391.74 487.31 L392.78 486.9 L393.83 486.48 L394.88 486.05 L395.93 485.61 L396.98 485.15 L398.02 484.69 L399.07 484.21 L400.12 483.72 L401.17 483.23 L402.22 482.72 L403.26 482.21 L404.31 481.68 L405.36 481.15 L406.41 480.61 L407.45 480.07 L408.5 479.51 L409.55 478.95 L410.6 478.39 L411.65 477.81 L412.69 477.24 L413.74 476.65 L414.79 476.07 L415.84 475.47 L416.89 474.88 L417.93 474.28 L418.98 473.65 L420.03 473 L421.08 472.33 L422.13 471.63 L423.17 470.91 L424.22 470.17 L425.27 469.42 L426.32 468.64 L427.37 467.84 L428.41 467.03 L429.46 466.21 L430.51 465.37 L431.56 464.51 L432.61 463.65 L433.65 462.77 L434.7 461.88 L435.75 460.99 L436.8 460.09 L437.85 459.18 L438.89 458.26 L439.94 457.34 L440.99 456.4 L442.04 455.43 L443.08 454.44 L444.13 453.43 L445.18 452.4 L446.23 451.35 L447.28 450.28 L448.32 449.2 L449.37 448.1 L450.42 446.98 L451.47 445.85 L452.52 444.71 L453.56 443.56 L454.61 442.4 L455.66 441.21 L456.71 440.01 L457.76 438.79 L458.8 437.55 L459.85 436.29 L460.9 435.02 L461.95 433.72 L463 432.41 L464.04 431.09 L465.09 429.74 L466.14 428.39 L467.19 427.01 L468.24 425.62 L469.28 424.21 L470.33 422.78 L471.38 421.33 L472.43 419.85 L473.48 418.35 L474.52 416.84 L475.57 415.3 L476.62 413.75 L477.67 412.18 L478.72 410.59 L479.76 408.99 L480.81 407.38 L481.86 405.75 L482.91 404.11 L483.95 402.46 L485 400.77 L486.05 399.05 L487.1 397.3 L488.15 395.53 L489.19 393.75 L490.24 391.97 L491.29 390.17 L492.34 388.38 L493.39 386.59 L494.43 384.82 L495.48 383.06 L496.53 381.31 L497.58 379.55 L498.63 377.79 L499.67 376.02 L500.72 374.22 L501.77 372.4 L502.82 370.54 L503.87 368.61 L504.91 366.62 L505.96 364.62 L507.01 362.63 L508.06 360.7 L509.11 358.85 L510.15 356.98 L511.2 355.1 L512.25 353.31 L513.3 351.65 L514.35 350.22 L515.39 348.96 L516.44 347.68 L517.49 346.46 L518.54 345.43 L519.58 344.72 L520.63 344.43 L521.68 345.12 L522.73 347.05 L523.78 349.63 L524.82 352.65 L525.87 356.97 L526.92 362.41 L527.97 368.68 L529.02 376.02 L530.06 384.88 L531.11 395.18 L532.16 406.86 L533.21 419.85 L534.26 434.43 L535.3 452.72 L536.35 474.12 L537.4 497.5" fill="none" stroke="#555" stroke-width="0.9" clip-path="url(#clipd)"/>
<path d="M307.9 497.5 L308.84 497.5 L309.77 497.5 L310.71 497.49 L311.65 497.49 L312.59 497.48 L313.52 497.48 L314.46 497.47 L315.4 497.46 L316.34 497.45 L317.27 497.43 L318.21 497.42 L319.15 497.41 L320.09 497.39 L321.02 497.37 L321.96 497.35 L322.9 497.34 L323.83 497.32 L324.77 497.29 L325.71 497.27 L326.65 497.25 L327.58 497.22 L328.52 497.2 L329.46 497.17 L330.4 497.15 L331.33 497.12 L332.27 497.09 L333.21 497.06 L334.15 497.03 L335.08 497 L336.02 496.97 L336.96 496.93 L337.89 496.9 L338.83 496.87 L339.77 496.83 L340.71 496.8 L341.64 496.76 L342.58 496.72 L343.52 496.69 L344.46 496.65 L345.39 496.61 L346.33 496.56 L347.27 496.5 L348.21 496.43 L349.14 496.36 L350.08 496.28 L351.02 496.19 L351.95 496.1 L352.89 495.99 L353.83 495.89 L354.77 495.77 L355.7 495.65 L356.64 495.52 L357.58 495.39 L358.52 495.25 L359.45 495.11 L360.39 494.96 L361.33 494.81 L362.27 494.65 L363.2 494.48 L364.14 494.32 L365.08 494.14 L366.01 493.96 L366.95 493.78 L367.89 493.6 L368.83 493.41 L369.76 493.22 L370.7 493.02 L371.64 492.82 L372.58 492.62 L373.51 492.41 L374.45 492.2 L375.39 491.99 L376.33 491.78 L377.26 491.56 L378.2 491.35 L379.14 491.13 L380.07 490.91 L381.01 490.68 L381.95 490.45 L382.89 490.21 L383.82 489.95 L384.76 489.68 L385.7 489.4 L386.64 489.11 L387.57 488.8 L388.51 488.49 L389.45 488.16 L390.39 487.82 L391.32 487.47 L392.26 487.11 L393.2 486.74 L394.13 486.36 L395.07 485.97 L396.01 485.57 L396.95 485.17 L397.88 484.75 L398.82 484.33 L399.76 483.89 L400.7 483.45 L401.63 483 L402.57 482.55 L403.51 482.09 L404.45 481.62 L405.38 481.14 L406.32 480.66 L407.26 480.17 L408.19 479.68 L409.13 479.18 L410.07 478.67 L411.01 478.16 L411.94 477.65 L412.88 477.13 L413.82 476.61 L414.76 476.08 L415.69 475.56 L416.63 475.02 L417.57 474.49 L418.51 473.94 L419.44 473.37 L420.38 472.78 L421.32 472.17 L422.25 471.54 L423.19 470.9 L424.13 470.24 L425.07 469.56 L426 468.87 L426.94 468.17 L427.88 467.45 L428.82 466.72 L429.75 465.97 L430.69 465.22 L431.63 464.45 L432.57 463.68 L433.5 462.9 L434.44 462.11 L435.38 461.31 L436.31 460.5 L437.25 459.69 L438.19 458.88 L439.13 458.06 L440.06 457.23 L441 456.38 L441.94 455.52 L442.88 454.64 L443.81 453.74 L444.75 452.82 L445.69 451.89 L446.63 450.95 L447.56 449.99 L448.5 449.01 L449.44 448.03 L450.37 447.03 L451.31 446.02 L452.25 445 L453.19 443.98 L454.12 442.94 L455.06 441.89 L456 440.83 L456.94 439.75 L457.87 438.66 L458.81 437.55 L459.75 436.43 L460.69 435.3 L461.62 434.15 L462.56 432.98 L463.5 431.8 L464.44 430.61 L465.37 429.4 L466.31 428.18 L467.25 426.94 L468.18 425.69 L469.12 424.43 L470.06 423.14 L471 421.83 L471.93 420.5 L472.87 419.15 L473.81 417.79 L474.75 416.4 L475.68 415.01 L476.62 413.59 L477.56 412.16 L478.5 410.72 L479.43 409.27 L480.37 407.8 L481.31 406.32 L482.24 404.84 L483.18 403.34 L484.12 401.83 L485.06 400.3 L485.99 398.74 L486.93 397.16 L487.87 395.56 L488.81 393.95 L489.74 392.33 L490.68 390.7 L491.62 389.06 L492.56 387.42 L493.49 385.77 L494.43 384.14 L495.37 382.61 L496.3 381.16 L497.24 379.74 L498.18 378.26 L499.12 376.68 L500.05 374.91 L500.99 372.9 L501.93 370.56 L502.87 367.53 L503.8 363.75 L504.74 359.37 L505.68 354.38 L506.62 348.28 L507.55 341.33 L508.49 333.9 L509.43 325.81 L510.36 316.58 L511.3 305.68 L512.24 291.98 L513.18 272.99" fill="none" stroke="#999" stroke-width="1.1" clip-path="url(#clipd)"/>
<path d="M525.8 497.5 L527 490 L529.2 485.1 L531 485.3 L533.5 488 L537.4 497.5" fill="none" stroke="#999" stroke-width="0.9"/>
<path d="M307.9 497.5 L308.67 497.5 L309.44 497.5 L310.2 497.5 L310.97 497.5 L311.74 497.5 L312.51 497.5 L313.27 497.5 L314.04 497.5 L314.81 497.49 L315.58 497.49 L316.34 497.49 L317.11 497.49 L317.88 497.48 L318.65 497.48 L319.41 497.47 L320.18 497.47 L320.95 497.46 L321.72 497.45 L322.48 497.45 L323.25 497.44 L324.02 497.43 L324.79 497.42 L325.55 497.4 L326.32 497.39 L327.09 497.38 L327.86 497.36 L328.62 497.34 L329.39 497.33 L330.16 497.31 L330.93 497.29 L331.69 497.26 L332.46 497.24 L333.23 497.22 L334 497.19 L334.76 497.16 L335.53 497.13 L336.3 497.1 L337.07 497.07 L337.83 497.03 L338.6 496.99 L339.37 496.96 L340.14 496.92 L340.91 496.87 L341.67 496.83 L342.44 496.78 L343.21 496.73 L343.98 496.68 L344.74 496.63 L345.51 496.57 L346.28 496.51 L347.05 496.45 L347.81 496.39 L348.58 496.33 L349.35 496.26 L350.12 496.19 L350.88 496.11 L351.65 496.04 L352.42 495.96 L353.19 495.88 L353.95 495.8 L354.72 495.71 L355.49 495.62 L356.26 495.53 L357.02 495.43 L357.79 495.33 L358.56 495.23 L359.33 495.13 L360.09 495.02 L360.86 494.91 L361.63 494.79 L362.4 494.68 L363.16 494.55 L363.93 494.43 L364.7 494.3 L365.47 494.17 L366.23 494.04 L367 493.9 L367.77 493.76 L368.54 493.61 L369.3 493.46 L370.07 493.31 L370.84 493.15 L371.61 492.99 L372.37 492.82 L373.14 492.65 L373.91 492.48 L374.68 492.3 L375.45 492.12 L376.21 491.94 L376.98 491.75 L377.75 491.55 L378.52 491.36 L379.28 491.15 L380.05 490.95 L380.82 490.73 L381.59 490.52 L382.35 490.3 L383.12 490.07 L383.89 489.84 L384.66 489.61 L385.42 489.37 L386.19 489.13 L386.96 488.88 L387.73 488.62 L388.49 488.36 L389.26 488.1 L390.03 487.83 L390.8 487.56 L391.56 487.28 L392.33 487 L393.1 486.71 L393.87 486.41 L394.63 486.11 L395.4 485.81 L396.17 485.5 L396.94 485.18 L397.7 484.86 L398.47 484.53 L399.24 484.2 L400.01 483.86 L400.77 483.52 L401.54 483.17 L402.31 482.82 L403.08 482.45 L403.84 482.09 L404.61 481.71 L405.38 481.34 L406.15 480.95 L406.92 480.56 L407.68 480.16 L408.45 479.76 L409.22 479.35 L409.99 478.93 L410.75 478.51 L411.52 478.08 L412.29 477.65 L413.06 477.21 L413.82 476.76 L414.59 476.31 L415.36 475.85 L416.13 475.38 L416.89 474.9 L417.66 474.42 L418.43 473.94 L419.2 473.44 L419.96 472.94 L420.73 472.43 L421.5 471.92 L422.27 471.4 L423.03 470.87 L423.8 470.33 L424.57 469.79 L425.34 469.24 L426.1 468.68 L426.87 468.11 L427.64 467.54 L428.41 466.96 L429.17 466.37 L429.94 465.78 L430.71 465.18 L431.48 464.57 L432.24 463.95 L433.01 463.32 L433.78 462.69 L434.55 462.05 L435.31 461.4 L436.08 460.75 L436.85 460.08 L437.62 459.41 L438.38 458.73 L439.15 458.04 L439.92 457.34 L440.69 456.64 L441.46 455.93 L442.22 455.21 L442.99 454.48 L443.76 453.74 L444.53 452.99 L445.29 452.24 L446.06 451.48 L446.83 450.71 L447.6 449.93 L448.36 449.14 L449.13 448.34 L449.9 447.53 L450.67 446.72 L451.43 445.9 L452.2 445.06 L452.97 444.22 L453.74 443.37 L454.5 442.51 L455.27 441.65 L456.04 440.77 L456.81 439.88 L457.57 438.99 L458.34 438.08 L459.11 437.17 L459.88 436.24 L460.64 435.31 L461.41 434.37 L462.18 433.42 L462.95 432.46 L463.71 431.48 L464.48 430.5 L465.25 429.51 L466.02 428.51 L466.78 427.5 L467.55 426.49 L468.32 425.46 L469.09 424.42 L469.85 423.37 L470.62 422.31 L471.39 421.24 L472.16 420.16 L472.93 419.07 L473.69 417.97 L474.46 416.86 L475.23 415.74 L476 414.61 L476.76 413.47 L477.53 412.32 L478.3 411.16 L479.07 409.99 L479.83 408.8 L480.6 407.61 L481.37 406.41 L482.14 405.19 L482.9 403.97 L483.67 402.73 L484.44 401.48 L485.21 400.23 L485.97 398.96 L486.74 397.68 L487.51 396.39 L488.28 395.09 L489.04 393.77 L489.81 392.45 L490.58 391.11 L491.35 389.77 L492.11 388.41 L492.88 387.04 L493.65 385.66 L494.42 384.27 L495.18 382.86 L495.95 381.45 L496.72 380.02 L497.49 378.58 L498.25 377.13 L499.02 375.67 L499.79 374.2 L500.56 372.71 L501.32 371.21 L502.09 369.7 L502.86 368.18 L503.63 366.65 L504.39 365.1 L505.16 363.55 L505.93 361.98 L506.7 360.39 L507.47 358.8 L508.23 357.19 L509 355.57 L509.77 353.94 L510.54 352.3 L511.3 350.64 L512.07 348.97 L512.84 347.29 L513.61 345.6 L514.37 343.89 L515.14 342.17 L515.91 340.44 L516.68 338.69 L517.44 336.94 L518.21 335.17 L518.98 333.38 L519.75 331.59 L520.51 329.78 L521.28 327.95 L522.05 326.12 L522.82 324.27 L523.58 322.4 L524.35 320.53 L525.12 318.64 L525.89 316.74 L526.65 314.82 L527.42 312.89 L528.19 310.95 L528.96 308.99 L529.72 307.02 L530.49 305.03 L531.26 303.04 L532.03 301.03 L532.79 299 L533.56 296.96 L534.33 294.91 L535.1 292.84 L535.86 290.76 L536.63 288.66 L537.4 286.55" fill="none" stroke="#222" stroke-width="1.0" clip-path="url(#clipd)"/>
<path d="M305.9 495.9L309.9 495.9L307.9 499.5Z" fill="#000"/>
<rect x="312.06" y="495.72" width="3.5" height="3.5" fill="#000"/>
<path d="M319.72 495.1L322.02 497.4L319.72 499.7L317.42 497.4Z" fill="#fff" stroke="#333" stroke-width="0.8"/>
<rect x="323.88" y="495.52" width="3.5" height="3.5" fill="#000"/>
<path d="M331.54 494.81L333.84 497.11L331.54 499.41L329.24 497.11Z" fill="#fff" stroke="#333" stroke-width="0.8"/>
<rect x="335.7" y="495.17" width="3.5" height="3.5" fill="#000"/>
<path d="M343.36 494.39L345.66 496.69L343.36 498.99L341.06 496.69Z" fill="#fff" stroke="#333" stroke-width="0.8"/>
<rect x="347.52" y="494.6" width="3.5" height="3.5" fill="#000"/>
<path d="M355.18 493.42L357.48 495.72L355.18 498.02L352.88 495.72Z" fill="#fff" stroke="#333" stroke-width="0.8"/>
<rect x="359.34" y="493.1" width="3.5" height="3.5" fill="#000"/>
<path d="M367 491.47L369.3 493.77L367 496.07L364.7 493.77Z" fill="#fff" stroke="#333" stroke-width="0.8"/>
<rect x="371.16" y="490.79" width="3.5" height="3.5" fill="#000"/>
<rect x="377.07" y="489.45" width="3.5" height="3.5" fill="#000"/>
<rect x="382.98" y="487.94" width="3.5" height="3.5" fill="#000"/>
<path d="M390.64 485.43L392.94 487.73L390.64 490.03L388.34 487.73Z" fill="#fff" stroke="#333" stroke-width="0.8"/>
<rect x="394.8" y="483.59" width="3.5" height="3.5" fill="#000"/>
<rect x="400.71" y="480.85" width="3.5" height="3.5" fill="#000"/>
<rect x="406.62" y="477.84" width="3.5" height="3.5" fill="#000"/>
<path d="M414.28 474.05L416.58 476.35L414.28 478.65L411.98 476.35Z" fill="#fff" stroke="#333" stroke-width="0.8"/>
<rect x="418.44" y="471.15" width="3.5" height="3.5" fill="#000"/>
<rect x="424.35" y="467.05" width="3.5" height="3.5" fill="#000"/>
<rect x="430.26" y="462.39" width="3.5" height="3.5" fill="#000"/>
<path d="M437.92 456.81L440.22 459.11L437.92 461.41L435.62 459.11Z" fill="#fff" stroke="#333" stroke-width="0.8"/>
<rect x="442.08" y="451.97" width="3.5" height="3.5" fill="#000"/>
<rect x="447.99" y="445.96" width="3.5" height="3.5" fill="#000"/>
<rect x="453.9" y="439.48" width="3.5" height="3.5" fill="#000"/>
<path d="M461.56 431.91L463.86 434.21L461.56 436.51L459.26 434.21Z" fill="#fff" stroke="#333" stroke-width="0.8"/>
<rect x="465.72" y="424.89" width="3.5" height="3.5" fill="#000"/>
<rect x="471.63" y="416.71" width="3.5" height="3.5" fill="#000"/>
<rect x="477.54" y="407.91" width="3.5" height="3.5" fill="#000"/>
<path d="M485.2 398.24L487.5 400.54L485.2 402.84L482.9 400.54Z" fill="#fff" stroke="#333" stroke-width="0.8"/>
<rect x="489.36" y="389.25" width="3.5" height="3.5" fill="#000"/>
<rect x="495.27" y="379.09" width="3.5" height="3.5" fill="#000"/>
<rect x="501.18" y="369.48" width="3.5" height="3.5" fill="#000"/>
<rect x="507.34" y="363.77" width="3.5" height="3.5" fill="#000"/>
<rect x="513.11" y="361.04" width="3.5" height="3.5" fill="#000"/>
<rect x="518.95" y="367.85" width="3.5" height="3.5" fill="#000"/>
<rect x="524.72" y="392.34" width="3.5" height="3.5" fill="#000"/>
<rect x="531.15" y="439.28" width="3.5" height="3.5" fill="#000"/>
<path d="M508.4 333.4L511 336L508.4 338.6L505.8 336Z" fill="#fff" stroke="#333" stroke-width="0.8"/>
<path d="M517.9 343.6L522.9 343.6L520.4 348.1Z" fill="#000"/>
<path d="M532.5 484.8L534.7 487L532.5 489.2L530.3 487Z" fill="#fff" stroke="#333" stroke-width="0.8"/>
<rect x="342.7" y="387.4" width="68.5" height="59.8" fill="#fff" stroke="#3a3a3a" stroke-width="1"/>
<path d="M342.7 405.2 L348.7 387.4" fill="none" stroke="#999" stroke-width="0.9" clip-path="url(#insD)"/>
<path d="M342.7 437.2 L368.8 387.4" fill="none" stroke="#222" stroke-width="1.1" clip-path="url(#insD)"/>
<path d="M342.7 441.5 L372.5 387.4" fill="none" stroke="#555" stroke-width="0.9" clip-path="url(#insD)"/>
<path d="M354.2 447.2 L367 433.1 L381.3 423.1 L395 420.3 L409 429.5 L411.2 431.7" fill="none" stroke="#333" stroke-width="1.0" clip-path="url(#insD)"/>
<path d="M355.1 447.2 L367 436.2 L381.3 425.3 L395 423.4 L411.2 435.3" fill="none" stroke="#777" stroke-width="0.9" stroke-dasharray="5.3 1.5 1 2.5" clip-path="url(#insD)"/>
<path d="M365.1 396.38L368.9 396.38L367 399.8Z" fill="#000"/>
<path d="M350.8 421.88L354.6 421.88L352.7 425.3Z" fill="#000"/>
<rect x="365.35" y="431.45" width="3.3" height="3.3" fill="#000"/>
<rect x="379.65" y="421.45" width="3.3" height="3.3" fill="#000"/>
<rect x="393.35" y="418.65" width="3.3" height="3.3" fill="#000"/>
<rect x="407.35" y="427.85" width="3.3" height="3.3" fill="#000"/>
<line x1="512.2" y1="368.7" x2="423.08" y2="396.98" stroke="#222" stroke-width="0.9"/>
<path d="M414.5 399.7L422.26 394.4L423.9 399.55Z" fill="#111"/>
<text x="413.3" y="542.6" font-family="Liberation Serif, serif" font-weight="bold" font-size="13.5" text-anchor="middle" fill="#111">(d)</text>
</svg>
</body></html>
